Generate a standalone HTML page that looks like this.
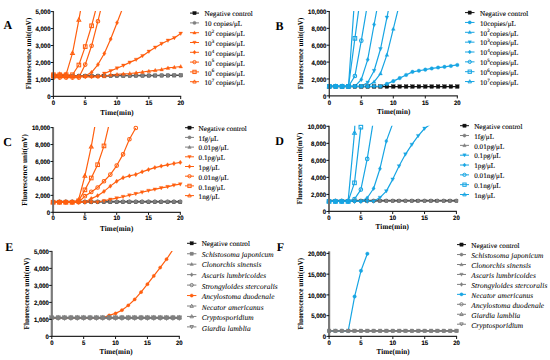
<!DOCTYPE html>
<html><head><meta charset="utf-8"><style>
html,body{margin:0;padding:0;background:#fff;width:550px;height:360px;overflow:hidden}
svg{display:block} text{text-rendering:geometricPrecision}
.tk{font-family:"Liberation Sans",sans-serif;font-weight:bold;font-size:6.3px;fill:#000;stroke:#000;stroke-width:0.12px}
.ttl{font-family:"Liberation Serif",serif;font-weight:bold;font-size:7.6px;letter-spacing:0.18px;fill:#000;stroke:#000;stroke-width:0.05px}
.let{font-family:"Liberation Serif",serif;font-weight:bold;font-size:12px;fill:#000}
.lg{font-family:"Liberation Serif",serif;font-size:7.1px;letter-spacing:0.05px;fill:#000;stroke:#000;stroke-width:0.1px}
.it{font-style:italic;font-size:7.4px;letter-spacing:0.1px;stroke-width:0.05px}
.sup{font-size:5px}
</style></head><body>
<svg width="550" height="360" viewBox="0 0 550 360">
<rect width="550" height="360" fill="#fff"/>
<clipPath id="cA"><rect x="47.4" y="11.1" width="141.3" height="90.85000000000001"/></clipPath>
<path clip-path="url(#cA)" d="M53.40 76.09 L59.77 76.05 L66.13 76.02 L72.50 75.98 L78.86 75.95 L85.22 75.92 L91.59 75.88 L97.95 75.85 L104.32 75.81 L110.69 75.78 L117.05 75.75 L123.41 75.71 L129.78 75.68 L136.15 75.64 L142.51 75.61 L148.88 75.58 L155.24 75.54 L161.60 75.51 L167.97 75.48 L174.34 75.44 L180.70 75.41" fill="none" stroke="#111111" stroke-width="1.2" stroke-linejoin="round"/>
<path clip-path="url(#cA)" d="M53.40 75.75 L59.77 75.72 L66.13 75.70 L72.50 75.67 L78.86 75.64 L85.22 75.62 L91.59 75.59 L97.95 75.57 L104.32 75.54 L110.69 75.52 L117.05 75.49 L123.41 75.47 L129.78 75.44 L136.15 75.42 L142.51 75.39 L148.88 75.36 L155.24 75.34 L161.60 75.31 L167.97 75.29 L174.34 75.26 L180.70 75.24" fill="none" stroke="#555" stroke-width="1.2" stroke-linejoin="round"/>
<path clip-path="url(#cA)" d="M53.40 76.43 L59.77 76.43 L66.13 76.43 L72.50 76.43 L78.86 76.43 L85.22 76.43 L91.59 76.43 L97.95 76.43 L104.32 76.43 L110.69 74.90 L117.05 74.39 L123.41 73.88 L129.78 73.51 L136.15 72.79 L142.51 72.00 L148.88 71.16 L155.24 70.32 L161.60 69.47 L167.97 67.94 L174.34 67.26 L180.70 66.50" fill="none" stroke="#ff5f0f" stroke-width="1.2" stroke-linejoin="round"/>
<path clip-path="url(#cA)" d="M53.40 76.93 L59.77 76.93 L66.13 76.93 L72.50 76.93 L78.86 76.93 L85.22 76.93 L91.59 76.93 L97.95 76.93 L104.32 73.51 L110.69 70.91 L117.05 68.19 L123.41 65.50 L129.78 62.41 L136.15 59.61 L142.51 55.89 L148.88 51.50 L155.24 47.41 L161.60 43.67 L167.97 40.45 L174.34 37.90 L180.70 33.51" fill="none" stroke="#ff5f0f" stroke-width="1.2" stroke-linejoin="round"/>
<path clip-path="url(#cA)" d="M53.40 76.09 L59.77 76.09 L66.13 76.09 L72.50 76.09 L78.86 76.09 L85.22 76.09 L91.59 72.35 L97.95 64.55 L104.32 53.50 L110.69 39.09 L117.05 22.70 L123.41 6.17" fill="none" stroke="#ff5f0f" stroke-width="1.2" stroke-linejoin="round"/>
<path clip-path="url(#cA)" d="M53.40 77.61 L59.77 77.61 L66.13 77.61 L72.50 77.61 L78.86 77.61 L85.22 64.60 L91.59 45.79 L97.95 21.21 L104.32 -5.37" fill="none" stroke="#ff5f0f" stroke-width="1.2" stroke-linejoin="round"/>
<path clip-path="url(#cA)" d="M53.40 74.73 L59.77 74.73 L66.13 74.73 L72.50 74.73 L78.86 65.00 L85.22 46.61 L91.59 25.80 L97.95 1.42" fill="none" stroke="#ff5f0f" stroke-width="1.2" stroke-linejoin="round"/>
<path clip-path="url(#cA)" d="M53.40 74.39 L59.77 74.39 L66.13 74.39 L72.50 53.11 L78.86 19.80 L85.22 -15.55" fill="none" stroke="#ff5f0f" stroke-width="1.2" stroke-linejoin="round"/>
<rect x="51.80" y="74.49" width="3.20" height="3.20" fill="#111111" stroke="#111111" stroke-width="0.35"/>
<rect x="58.16" y="74.45" width="3.20" height="3.20" fill="#111111" stroke="#111111" stroke-width="0.35"/>
<rect x="64.53" y="74.42" width="3.20" height="3.20" fill="#111111" stroke="#111111" stroke-width="0.35"/>
<rect x="70.90" y="74.38" width="3.20" height="3.20" fill="#111111" stroke="#111111" stroke-width="0.35"/>
<rect x="77.26" y="74.35" width="3.20" height="3.20" fill="#111111" stroke="#111111" stroke-width="0.35"/>
<rect x="83.62" y="74.32" width="3.20" height="3.20" fill="#111111" stroke="#111111" stroke-width="0.35"/>
<rect x="89.99" y="74.28" width="3.20" height="3.20" fill="#111111" stroke="#111111" stroke-width="0.35"/>
<rect x="96.36" y="74.25" width="3.20" height="3.20" fill="#111111" stroke="#111111" stroke-width="0.35"/>
<rect x="102.72" y="74.21" width="3.20" height="3.20" fill="#111111" stroke="#111111" stroke-width="0.35"/>
<rect x="109.09" y="74.18" width="3.20" height="3.20" fill="#111111" stroke="#111111" stroke-width="0.35"/>
<rect x="115.45" y="74.15" width="3.20" height="3.20" fill="#111111" stroke="#111111" stroke-width="0.35"/>
<rect x="121.81" y="74.11" width="3.20" height="3.20" fill="#111111" stroke="#111111" stroke-width="0.35"/>
<rect x="128.18" y="74.08" width="3.20" height="3.20" fill="#111111" stroke="#111111" stroke-width="0.35"/>
<rect x="134.55" y="74.04" width="3.20" height="3.20" fill="#111111" stroke="#111111" stroke-width="0.35"/>
<rect x="140.91" y="74.01" width="3.20" height="3.20" fill="#111111" stroke="#111111" stroke-width="0.35"/>
<rect x="147.28" y="73.98" width="3.20" height="3.20" fill="#111111" stroke="#111111" stroke-width="0.35"/>
<rect x="153.64" y="73.94" width="3.20" height="3.20" fill="#111111" stroke="#111111" stroke-width="0.35"/>
<rect x="160.00" y="73.91" width="3.20" height="3.20" fill="#111111" stroke="#111111" stroke-width="0.35"/>
<rect x="166.37" y="73.88" width="3.20" height="3.20" fill="#111111" stroke="#111111" stroke-width="0.35"/>
<rect x="172.74" y="73.84" width="3.20" height="3.20" fill="#111111" stroke="#111111" stroke-width="0.35"/>
<rect x="179.10" y="73.81" width="3.20" height="3.20" fill="#111111" stroke="#111111" stroke-width="0.35"/>
<circle cx="53.40" cy="75.75" r="1.85" fill="#808080" stroke="#808080" stroke-width="0.35"/>
<circle cx="59.77" cy="75.72" r="1.85" fill="#808080" stroke="#808080" stroke-width="0.35"/>
<circle cx="66.13" cy="75.70" r="1.85" fill="#808080" stroke="#808080" stroke-width="0.35"/>
<circle cx="72.50" cy="75.67" r="1.85" fill="#808080" stroke="#808080" stroke-width="0.35"/>
<circle cx="78.86" cy="75.64" r="1.85" fill="#808080" stroke="#808080" stroke-width="0.35"/>
<circle cx="85.22" cy="75.62" r="1.85" fill="#808080" stroke="#808080" stroke-width="0.35"/>
<circle cx="91.59" cy="75.59" r="1.85" fill="#808080" stroke="#808080" stroke-width="0.35"/>
<circle cx="97.95" cy="75.57" r="1.85" fill="#808080" stroke="#808080" stroke-width="0.35"/>
<circle cx="104.32" cy="75.54" r="1.85" fill="#808080" stroke="#808080" stroke-width="0.35"/>
<circle cx="110.69" cy="75.52" r="1.85" fill="#808080" stroke="#808080" stroke-width="0.35"/>
<circle cx="117.05" cy="75.49" r="1.85" fill="#808080" stroke="#808080" stroke-width="0.35"/>
<circle cx="123.41" cy="75.47" r="1.85" fill="#808080" stroke="#808080" stroke-width="0.35"/>
<circle cx="129.78" cy="75.44" r="1.85" fill="#808080" stroke="#808080" stroke-width="0.35"/>
<circle cx="136.15" cy="75.42" r="1.85" fill="#808080" stroke="#808080" stroke-width="0.35"/>
<circle cx="142.51" cy="75.39" r="1.85" fill="#808080" stroke="#808080" stroke-width="0.35"/>
<circle cx="148.88" cy="75.36" r="1.85" fill="#808080" stroke="#808080" stroke-width="0.35"/>
<circle cx="155.24" cy="75.34" r="1.85" fill="#808080" stroke="#808080" stroke-width="0.35"/>
<circle cx="161.60" cy="75.31" r="1.85" fill="#808080" stroke="#808080" stroke-width="0.35"/>
<circle cx="167.97" cy="75.29" r="1.85" fill="#808080" stroke="#808080" stroke-width="0.35"/>
<circle cx="174.34" cy="75.26" r="1.85" fill="#808080" stroke="#808080" stroke-width="0.35"/>
<circle cx="180.70" cy="75.24" r="1.85" fill="#808080" stroke="#808080" stroke-width="0.35"/>
<path d="M53.40 74.45L55.29 77.87L51.51 77.87Z" fill="#ff5f0f" stroke="#ff5f0f" stroke-width="0.35"/>
<path d="M59.77 74.45L61.66 77.87L57.88 77.87Z" fill="#ff5f0f" stroke="#ff5f0f" stroke-width="0.35"/>
<path d="M66.13 74.45L68.02 77.87L64.24 77.87Z" fill="#ff5f0f" stroke="#ff5f0f" stroke-width="0.35"/>
<path d="M72.50 74.45L74.39 77.87L70.61 77.87Z" fill="#ff5f0f" stroke="#ff5f0f" stroke-width="0.35"/>
<path d="M78.86 74.45L80.75 77.87L76.97 77.87Z" fill="#ff5f0f" stroke="#ff5f0f" stroke-width="0.35"/>
<path d="M85.22 74.45L87.11 77.87L83.33 77.87Z" fill="#ff5f0f" stroke="#ff5f0f" stroke-width="0.35"/>
<path d="M91.59 74.45L93.48 77.87L89.70 77.87Z" fill="#ff5f0f" stroke="#ff5f0f" stroke-width="0.35"/>
<path d="M97.95 74.45L99.84 77.87L96.06 77.87Z" fill="#ff5f0f" stroke="#ff5f0f" stroke-width="0.35"/>
<path d="M104.32 74.45L106.21 77.87L102.43 77.87Z" fill="#ff5f0f" stroke="#ff5f0f" stroke-width="0.35"/>
<path d="M110.69 72.92L112.58 76.34L108.80 76.34Z" fill="#ff5f0f" stroke="#ff5f0f" stroke-width="0.35"/>
<path d="M117.05 72.41L118.94 75.83L115.16 75.83Z" fill="#ff5f0f" stroke="#ff5f0f" stroke-width="0.35"/>
<path d="M123.41 71.90L125.30 75.32L121.52 75.32Z" fill="#ff5f0f" stroke="#ff5f0f" stroke-width="0.35"/>
<path d="M129.78 71.53L131.67 74.95L127.89 74.95Z" fill="#ff5f0f" stroke="#ff5f0f" stroke-width="0.35"/>
<path d="M136.15 70.81L138.03 74.23L134.26 74.23Z" fill="#ff5f0f" stroke="#ff5f0f" stroke-width="0.35"/>
<path d="M142.51 70.02L144.40 73.44L140.62 73.44Z" fill="#ff5f0f" stroke="#ff5f0f" stroke-width="0.35"/>
<path d="M148.88 69.18L150.76 72.60L146.99 72.60Z" fill="#ff5f0f" stroke="#ff5f0f" stroke-width="0.35"/>
<path d="M155.24 68.34L157.13 71.76L153.35 71.76Z" fill="#ff5f0f" stroke="#ff5f0f" stroke-width="0.35"/>
<path d="M161.60 67.49L163.49 70.91L159.72 70.91Z" fill="#ff5f0f" stroke="#ff5f0f" stroke-width="0.35"/>
<path d="M167.97 65.96L169.86 69.38L166.08 69.38Z" fill="#ff5f0f" stroke="#ff5f0f" stroke-width="0.35"/>
<path d="M174.34 65.28L176.22 68.70L172.45 68.70Z" fill="#ff5f0f" stroke="#ff5f0f" stroke-width="0.35"/>
<path d="M180.70 64.52L182.59 67.94L178.81 67.94Z" fill="#ff5f0f" stroke="#ff5f0f" stroke-width="0.35"/>
<path d="M53.40 78.91L55.29 75.49L51.51 75.49Z" fill="#ff5f0f" stroke="#ff5f0f" stroke-width="0.35"/>
<path d="M59.77 78.91L61.66 75.49L57.88 75.49Z" fill="#ff5f0f" stroke="#ff5f0f" stroke-width="0.35"/>
<path d="M66.13 78.91L68.02 75.49L64.24 75.49Z" fill="#ff5f0f" stroke="#ff5f0f" stroke-width="0.35"/>
<path d="M72.50 78.91L74.39 75.49L70.61 75.49Z" fill="#ff5f0f" stroke="#ff5f0f" stroke-width="0.35"/>
<path d="M78.86 78.91L80.75 75.49L76.97 75.49Z" fill="#ff5f0f" stroke="#ff5f0f" stroke-width="0.35"/>
<path d="M85.22 78.91L87.11 75.49L83.33 75.49Z" fill="#ff5f0f" stroke="#ff5f0f" stroke-width="0.35"/>
<path d="M91.59 78.91L93.48 75.49L89.70 75.49Z" fill="#ff5f0f" stroke="#ff5f0f" stroke-width="0.35"/>
<path d="M97.95 78.91L99.84 75.49L96.06 75.49Z" fill="#ff5f0f" stroke="#ff5f0f" stroke-width="0.35"/>
<path d="M104.32 75.49L106.21 72.07L102.43 72.07Z" fill="#ff5f0f" stroke="#ff5f0f" stroke-width="0.35"/>
<path d="M110.69 72.89L112.58 69.47L108.80 69.47Z" fill="#ff5f0f" stroke="#ff5f0f" stroke-width="0.35"/>
<path d="M117.05 70.17L118.94 66.75L115.16 66.75Z" fill="#ff5f0f" stroke="#ff5f0f" stroke-width="0.35"/>
<path d="M123.41 67.48L125.30 64.06L121.52 64.06Z" fill="#ff5f0f" stroke="#ff5f0f" stroke-width="0.35"/>
<path d="M129.78 64.39L131.67 60.97L127.89 60.97Z" fill="#ff5f0f" stroke="#ff5f0f" stroke-width="0.35"/>
<path d="M136.15 61.59L138.03 58.17L134.26 58.17Z" fill="#ff5f0f" stroke="#ff5f0f" stroke-width="0.35"/>
<path d="M142.51 57.87L144.40 54.45L140.62 54.45Z" fill="#ff5f0f" stroke="#ff5f0f" stroke-width="0.35"/>
<path d="M148.88 53.48L150.76 50.06L146.99 50.06Z" fill="#ff5f0f" stroke="#ff5f0f" stroke-width="0.35"/>
<path d="M155.24 49.39L157.13 45.97L153.35 45.97Z" fill="#ff5f0f" stroke="#ff5f0f" stroke-width="0.35"/>
<path d="M161.60 45.65L163.49 42.23L159.72 42.23Z" fill="#ff5f0f" stroke="#ff5f0f" stroke-width="0.35"/>
<path d="M167.97 42.43L169.86 39.01L166.08 39.01Z" fill="#ff5f0f" stroke="#ff5f0f" stroke-width="0.35"/>
<path d="M174.34 39.88L176.22 36.46L172.45 36.46Z" fill="#ff5f0f" stroke="#ff5f0f" stroke-width="0.35"/>
<path d="M180.70 35.49L182.59 32.07L178.81 32.07Z" fill="#ff5f0f" stroke="#ff5f0f" stroke-width="0.35"/>
<path d="M53.40 73.93L55.02 76.09L53.40 78.25L51.78 76.09Z" fill="#ff5f0f" stroke="#ff5f0f" stroke-width="0.35"/>
<path d="M59.77 73.93L61.38 76.09L59.77 78.25L58.15 76.09Z" fill="#ff5f0f" stroke="#ff5f0f" stroke-width="0.35"/>
<path d="M66.13 73.93L67.75 76.09L66.13 78.25L64.51 76.09Z" fill="#ff5f0f" stroke="#ff5f0f" stroke-width="0.35"/>
<path d="M72.50 73.93L74.12 76.09L72.50 78.25L70.88 76.09Z" fill="#ff5f0f" stroke="#ff5f0f" stroke-width="0.35"/>
<path d="M78.86 73.93L80.48 76.09L78.86 78.25L77.24 76.09Z" fill="#ff5f0f" stroke="#ff5f0f" stroke-width="0.35"/>
<path d="M85.22 73.93L86.84 76.09L85.22 78.25L83.60 76.09Z" fill="#ff5f0f" stroke="#ff5f0f" stroke-width="0.35"/>
<path d="M91.59 70.19L93.21 72.35L91.59 74.51L89.97 72.35Z" fill="#ff5f0f" stroke="#ff5f0f" stroke-width="0.35"/>
<path d="M97.95 62.39L99.58 64.55L97.95 66.71L96.33 64.55Z" fill="#ff5f0f" stroke="#ff5f0f" stroke-width="0.35"/>
<path d="M104.32 51.34L105.94 53.50L104.32 55.66L102.70 53.50Z" fill="#ff5f0f" stroke="#ff5f0f" stroke-width="0.35"/>
<path d="M110.69 36.93L112.31 39.09L110.69 41.25L109.06 39.09Z" fill="#ff5f0f" stroke="#ff5f0f" stroke-width="0.35"/>
<path d="M117.05 20.54L118.67 22.70L117.05 24.86L115.43 22.70Z" fill="#ff5f0f" stroke="#ff5f0f" stroke-width="0.35"/>
<circle cx="53.40" cy="77.61" r="1.80" fill="none" stroke="#ff5f0f" stroke-width="1.05"/>
<circle cx="59.77" cy="77.61" r="1.80" fill="none" stroke="#ff5f0f" stroke-width="1.05"/>
<circle cx="66.13" cy="77.61" r="1.80" fill="none" stroke="#ff5f0f" stroke-width="1.05"/>
<circle cx="72.50" cy="77.61" r="1.80" fill="none" stroke="#ff5f0f" stroke-width="1.05"/>
<circle cx="78.86" cy="77.61" r="1.80" fill="none" stroke="#ff5f0f" stroke-width="1.05"/>
<circle cx="85.22" cy="64.60" r="1.80" fill="none" stroke="#ff5f0f" stroke-width="1.05"/>
<circle cx="91.59" cy="45.79" r="1.80" fill="none" stroke="#ff5f0f" stroke-width="1.05"/>
<circle cx="97.95" cy="21.21" r="1.80" fill="none" stroke="#ff5f0f" stroke-width="1.05"/>
<rect x="51.60" y="72.93" width="3.60" height="3.60" fill="none" stroke="#ff5f0f" stroke-width="1.05"/>
<rect x="57.97" y="72.93" width="3.60" height="3.60" fill="none" stroke="#ff5f0f" stroke-width="1.05"/>
<rect x="64.33" y="72.93" width="3.60" height="3.60" fill="none" stroke="#ff5f0f" stroke-width="1.05"/>
<rect x="70.70" y="72.93" width="3.60" height="3.60" fill="none" stroke="#ff5f0f" stroke-width="1.05"/>
<rect x="77.06" y="63.20" width="3.60" height="3.60" fill="none" stroke="#ff5f0f" stroke-width="1.05"/>
<rect x="83.42" y="44.81" width="3.60" height="3.60" fill="none" stroke="#ff5f0f" stroke-width="1.05"/>
<rect x="89.79" y="24.00" width="3.60" height="3.60" fill="none" stroke="#ff5f0f" stroke-width="1.05"/>
<path d="M53.40 72.41L55.29 75.83L51.51 75.83Z" fill="none" stroke="#ff5f0f" stroke-width="1.05"/>
<path d="M59.77 72.41L61.66 75.83L57.88 75.83Z" fill="none" stroke="#ff5f0f" stroke-width="1.05"/>
<path d="M66.13 72.41L68.02 75.83L64.24 75.83Z" fill="none" stroke="#ff5f0f" stroke-width="1.05"/>
<path d="M72.50 51.13L74.39 54.55L70.61 54.55Z" fill="none" stroke="#ff5f0f" stroke-width="1.05"/>
<path d="M78.86 17.82L80.75 21.24L76.97 21.24Z" fill="none" stroke="#ff5f0f" stroke-width="1.05"/>
<line x1="53.40" y1="11.10" x2="53.40" y2="96.95" stroke="#3a3a3a" stroke-width="1.3"/>
<line x1="52.90" y1="96.45" x2="181.20" y2="96.45" stroke="#2a2a2a" stroke-width="1.2"/>
<line x1="50.80" y1="96.45" x2="53.40" y2="96.45" stroke="#141414" stroke-width="1"/>
<text transform="translate(50.50 99.25) scale(0.95 1)" text-anchor="end" class="tk">0</text>
<line x1="50.80" y1="79.48" x2="53.40" y2="79.48" stroke="#141414" stroke-width="1"/>
<text transform="translate(50.50 82.28) scale(0.95 1)" text-anchor="end" class="tk">1,000</text>
<line x1="50.80" y1="62.51" x2="53.40" y2="62.51" stroke="#141414" stroke-width="1"/>
<text transform="translate(50.50 65.31) scale(0.95 1)" text-anchor="end" class="tk">2,000</text>
<line x1="50.80" y1="45.54" x2="53.40" y2="45.54" stroke="#141414" stroke-width="1"/>
<text transform="translate(50.50 48.34) scale(0.95 1)" text-anchor="end" class="tk">3,000</text>
<line x1="50.80" y1="28.57" x2="53.40" y2="28.57" stroke="#141414" stroke-width="1"/>
<text transform="translate(50.50 31.37) scale(0.95 1)" text-anchor="end" class="tk">4,000</text>
<line x1="50.80" y1="11.60" x2="53.40" y2="11.60" stroke="#141414" stroke-width="1"/>
<text transform="translate(50.50 14.40) scale(0.95 1)" text-anchor="end" class="tk">5,000</text>
<line x1="53.40" y1="96.45" x2="53.40" y2="99.05" stroke="#141414" stroke-width="1"/>
<text transform="translate(53.40 104.75) scale(0.95 1)" text-anchor="middle" class="tk">0</text>
<line x1="85.22" y1="96.45" x2="85.22" y2="99.05" stroke="#141414" stroke-width="1"/>
<text transform="translate(85.22 104.75) scale(0.95 1)" text-anchor="middle" class="tk">5</text>
<line x1="117.05" y1="96.45" x2="117.05" y2="99.05" stroke="#141414" stroke-width="1"/>
<text transform="translate(117.05 104.75) scale(0.95 1)" text-anchor="middle" class="tk">10</text>
<line x1="148.88" y1="96.45" x2="148.88" y2="99.05" stroke="#141414" stroke-width="1"/>
<text transform="translate(148.88 104.75) scale(0.95 1)" text-anchor="middle" class="tk">15</text>
<line x1="180.70" y1="96.45" x2="180.70" y2="99.05" stroke="#141414" stroke-width="1"/>
<text transform="translate(180.70 104.75) scale(0.95 1)" text-anchor="middle" class="tk">20</text>
<text transform="translate(117.05 114.90) scale(0.925 1)" text-anchor="middle" class="ttl">Time(min)</text>
<text transform="translate(30.80 53.40) rotate(-90) scale(0.925 1)" text-anchor="middle" class="ttl">Fluorescence unit(mV)</text>
<text transform="translate(3.50 28.90)" class="let">A</text>
<line x1="190.00" y1="13.10" x2="199.00" y2="13.10" stroke="#111111" stroke-width="1"/>
<rect x="192.85" y="11.45" width="3.30" height="3.30" fill="#111111" stroke="#111111" stroke-width="0.35"/>
<text transform="translate(204.50 16.10)" class="lg">Negative control</text>
<line x1="190.00" y1="22.90" x2="199.00" y2="22.90" stroke="#808080" stroke-width="1"/>
<circle cx="194.50" cy="22.90" r="1.65" fill="#808080" stroke="#808080" stroke-width="0.35"/>
<text transform="translate(204.50 26.00)" class="lg">10 copies/μL</text>
<line x1="190.00" y1="32.70" x2="199.00" y2="32.70" stroke="#ff5f0f" stroke-width="1"/>
<path d="M194.50 30.89L196.23 34.02L192.77 34.02Z" fill="#ff5f0f" stroke="#ff5f0f" stroke-width="0.35"/>
<text transform="translate(204.50 35.90)" class="lg">10<tspan class="sup" dy="-3.2">2</tspan><tspan dy="3.2"> copies/μL</tspan></text>
<line x1="190.00" y1="42.50" x2="199.00" y2="42.50" stroke="#ff5f0f" stroke-width="1"/>
<path d="M194.50 44.31L196.23 41.18L192.77 41.18Z" fill="#ff5f0f" stroke="#ff5f0f" stroke-width="0.35"/>
<text transform="translate(204.50 45.80)" class="lg">10<tspan class="sup" dy="-3.2">3</tspan><tspan dy="3.2"> copies/μL</tspan></text>
<line x1="190.00" y1="52.30" x2="199.00" y2="52.30" stroke="#ff5f0f" stroke-width="1"/>
<path d="M194.50 50.32L195.99 52.30L194.50 54.28L193.01 52.30Z" fill="#ff5f0f" stroke="#ff5f0f" stroke-width="0.35"/>
<text transform="translate(204.50 55.70)" class="lg">10<tspan class="sup" dy="-3.2">4</tspan><tspan dy="3.2"> copies/μL</tspan></text>
<line x1="190.00" y1="62.10" x2="199.00" y2="62.10" stroke="#ff5f0f" stroke-width="1"/>
<circle cx="194.50" cy="62.10" r="1.65" fill="none" stroke="#ff5f0f" stroke-width="1.0"/>
<text transform="translate(204.50 65.60)" class="lg">10<tspan class="sup" dy="-3.2">5</tspan><tspan dy="3.2"> copies/μL</tspan></text>
<line x1="190.00" y1="71.90" x2="199.00" y2="71.90" stroke="#ff5f0f" stroke-width="1"/>
<rect x="192.85" y="70.25" width="3.30" height="3.30" fill="none" stroke="#ff5f0f" stroke-width="1.0"/>
<text transform="translate(204.50 75.50)" class="lg">10<tspan class="sup" dy="-3.2">6</tspan><tspan dy="3.2"> copies/μL</tspan></text>
<line x1="190.00" y1="81.70" x2="199.00" y2="81.70" stroke="#ff5f0f" stroke-width="1"/>
<path d="M194.50 79.89L196.23 83.02L192.77 83.02Z" fill="none" stroke="#ff5f0f" stroke-width="1.0"/>
<text transform="translate(204.50 85.40)" class="lg">10<tspan class="sup" dy="-3.2">7</tspan><tspan dy="3.2"> copies/μL</tspan></text>
<clipPath id="cB"><rect x="323.3" y="10.95" width="142.0" height="90.39999999999999"/></clipPath>
<path clip-path="url(#cB)" d="M329.30 86.57 L335.70 86.57 L342.10 86.57 L348.50 86.57 L354.90 86.57 L361.30 86.57 L367.70 86.57 L374.10 86.57 L380.50 86.57 L386.90 86.57 L393.30 86.57 L399.70 86.57 L406.10 86.57 L412.50 86.57 L418.90 86.57 L425.30 86.57 L431.70 86.57 L438.10 86.57 L444.50 86.57 L450.90 86.57 L457.30 86.57" fill="none" stroke="#111111" stroke-width="1.2" stroke-linejoin="round"/>
<path clip-path="url(#cB)" d="M329.30 86.31 L335.70 86.31 L342.10 86.31 L348.50 86.31 L354.90 86.31 L361.30 86.31 L367.70 86.31 L374.10 86.31 L380.50 86.31 L386.90 83.89 L393.30 81.16 L399.70 78.12 L406.10 74.93 L412.50 71.84 L418.90 70.74 L425.30 69.64 L431.70 68.45 L438.10 67.55 L444.50 66.85 L450.90 65.96 L457.30 64.96" fill="none" stroke="#17a5e3" stroke-width="1.2" stroke-linejoin="round"/>
<path clip-path="url(#cB)" d="M329.30 86.31 L335.70 86.31 L342.10 86.31 L348.50 86.31 L354.90 86.31 L361.30 86.31 L367.70 86.31 L374.10 81.80 L380.50 73.53 L386.90 54.90 L393.30 28.89 L399.70 3.01" fill="none" stroke="#17a5e3" stroke-width="1.2" stroke-linejoin="round"/>
<path clip-path="url(#cB)" d="M329.30 86.31 L335.70 86.31 L342.10 86.31 L348.50 86.31 L354.90 86.31 L361.30 86.31 L367.70 82.50 L374.10 70.74 L380.50 49.02 L386.90 17.53 L393.30 -13.87" fill="none" stroke="#17a5e3" stroke-width="1.2" stroke-linejoin="round"/>
<path clip-path="url(#cB)" d="M329.30 86.31 L335.70 86.31 L342.10 86.31 L348.50 86.31 L354.90 86.31 L361.30 79.51 L367.70 59.68 L374.10 24.51 L380.50 -9.65" fill="none" stroke="#17a5e3" stroke-width="1.2" stroke-linejoin="round"/>
<path clip-path="url(#cB)" d="M329.30 86.31 L335.70 86.31 L342.10 86.31 L348.50 86.31 L354.90 76.02 L361.30 40.64 L367.70 3.01" fill="none" stroke="#17a5e3" stroke-width="1.2" stroke-linejoin="round"/>
<path clip-path="url(#cB)" d="M329.30 86.31 L335.70 86.31 L342.10 86.31 L348.50 86.31 L354.90 38.36 L361.30 -9.65" fill="none" stroke="#17a5e3" stroke-width="1.2" stroke-linejoin="round"/>
<path clip-path="url(#cB)" d="M329.30 86.31 L335.70 86.31 L342.10 86.31 L348.50 86.31 L354.90 -5.43" fill="none" stroke="#17a5e3" stroke-width="1.2" stroke-linejoin="round"/>
<rect x="327.50" y="84.77" width="3.60" height="3.60" fill="#111111" stroke="#111111" stroke-width="0.35"/>
<rect x="333.90" y="84.77" width="3.60" height="3.60" fill="#111111" stroke="#111111" stroke-width="0.35"/>
<rect x="340.30" y="84.77" width="3.60" height="3.60" fill="#111111" stroke="#111111" stroke-width="0.35"/>
<rect x="346.70" y="84.77" width="3.60" height="3.60" fill="#111111" stroke="#111111" stroke-width="0.35"/>
<rect x="353.10" y="84.77" width="3.60" height="3.60" fill="#111111" stroke="#111111" stroke-width="0.35"/>
<rect x="359.50" y="84.77" width="3.60" height="3.60" fill="#111111" stroke="#111111" stroke-width="0.35"/>
<rect x="365.90" y="84.77" width="3.60" height="3.60" fill="#111111" stroke="#111111" stroke-width="0.35"/>
<rect x="372.30" y="84.77" width="3.60" height="3.60" fill="#111111" stroke="#111111" stroke-width="0.35"/>
<rect x="378.70" y="84.77" width="3.60" height="3.60" fill="#111111" stroke="#111111" stroke-width="0.35"/>
<rect x="385.10" y="84.77" width="3.60" height="3.60" fill="#111111" stroke="#111111" stroke-width="0.35"/>
<rect x="391.50" y="84.77" width="3.60" height="3.60" fill="#111111" stroke="#111111" stroke-width="0.35"/>
<rect x="397.90" y="84.77" width="3.60" height="3.60" fill="#111111" stroke="#111111" stroke-width="0.35"/>
<rect x="404.30" y="84.77" width="3.60" height="3.60" fill="#111111" stroke="#111111" stroke-width="0.35"/>
<rect x="410.70" y="84.77" width="3.60" height="3.60" fill="#111111" stroke="#111111" stroke-width="0.35"/>
<rect x="417.10" y="84.77" width="3.60" height="3.60" fill="#111111" stroke="#111111" stroke-width="0.35"/>
<rect x="423.50" y="84.77" width="3.60" height="3.60" fill="#111111" stroke="#111111" stroke-width="0.35"/>
<rect x="429.90" y="84.77" width="3.60" height="3.60" fill="#111111" stroke="#111111" stroke-width="0.35"/>
<rect x="436.30" y="84.77" width="3.60" height="3.60" fill="#111111" stroke="#111111" stroke-width="0.35"/>
<rect x="442.70" y="84.77" width="3.60" height="3.60" fill="#111111" stroke="#111111" stroke-width="0.35"/>
<rect x="449.10" y="84.77" width="3.60" height="3.60" fill="#111111" stroke="#111111" stroke-width="0.35"/>
<rect x="455.50" y="84.77" width="3.60" height="3.60" fill="#111111" stroke="#111111" stroke-width="0.35"/>
<circle cx="329.30" cy="86.31" r="1.80" fill="#17a5e3" stroke="#17a5e3" stroke-width="0.35"/>
<circle cx="335.70" cy="86.31" r="1.80" fill="#17a5e3" stroke="#17a5e3" stroke-width="0.35"/>
<circle cx="342.10" cy="86.31" r="1.80" fill="#17a5e3" stroke="#17a5e3" stroke-width="0.35"/>
<circle cx="348.50" cy="86.31" r="1.80" fill="#17a5e3" stroke="#17a5e3" stroke-width="0.35"/>
<circle cx="354.90" cy="86.31" r="1.80" fill="#17a5e3" stroke="#17a5e3" stroke-width="0.35"/>
<circle cx="361.30" cy="86.31" r="1.80" fill="#17a5e3" stroke="#17a5e3" stroke-width="0.35"/>
<circle cx="367.70" cy="86.31" r="1.80" fill="#17a5e3" stroke="#17a5e3" stroke-width="0.35"/>
<circle cx="374.10" cy="86.31" r="1.80" fill="#17a5e3" stroke="#17a5e3" stroke-width="0.35"/>
<circle cx="380.50" cy="86.31" r="1.80" fill="#17a5e3" stroke="#17a5e3" stroke-width="0.35"/>
<circle cx="386.90" cy="83.89" r="1.80" fill="#17a5e3" stroke="#17a5e3" stroke-width="0.35"/>
<circle cx="393.30" cy="81.16" r="1.80" fill="#17a5e3" stroke="#17a5e3" stroke-width="0.35"/>
<circle cx="399.70" cy="78.12" r="1.80" fill="#17a5e3" stroke="#17a5e3" stroke-width="0.35"/>
<circle cx="406.10" cy="74.93" r="1.80" fill="#17a5e3" stroke="#17a5e3" stroke-width="0.35"/>
<circle cx="412.50" cy="71.84" r="1.80" fill="#17a5e3" stroke="#17a5e3" stroke-width="0.35"/>
<circle cx="418.90" cy="70.74" r="1.80" fill="#17a5e3" stroke="#17a5e3" stroke-width="0.35"/>
<circle cx="425.30" cy="69.64" r="1.80" fill="#17a5e3" stroke="#17a5e3" stroke-width="0.35"/>
<circle cx="431.70" cy="68.45" r="1.80" fill="#17a5e3" stroke="#17a5e3" stroke-width="0.35"/>
<circle cx="438.10" cy="67.55" r="1.80" fill="#17a5e3" stroke="#17a5e3" stroke-width="0.35"/>
<circle cx="444.50" cy="66.85" r="1.80" fill="#17a5e3" stroke="#17a5e3" stroke-width="0.35"/>
<circle cx="450.90" cy="65.96" r="1.80" fill="#17a5e3" stroke="#17a5e3" stroke-width="0.35"/>
<circle cx="457.30" cy="64.96" r="1.80" fill="#17a5e3" stroke="#17a5e3" stroke-width="0.35"/>
<path d="M329.30 84.33L331.19 87.75L327.41 87.75Z" fill="#17a5e3" stroke="#17a5e3" stroke-width="0.35"/>
<path d="M335.70 84.33L337.59 87.75L333.81 87.75Z" fill="#17a5e3" stroke="#17a5e3" stroke-width="0.35"/>
<path d="M342.10 84.33L343.99 87.75L340.21 87.75Z" fill="#17a5e3" stroke="#17a5e3" stroke-width="0.35"/>
<path d="M348.50 84.33L350.39 87.75L346.61 87.75Z" fill="#17a5e3" stroke="#17a5e3" stroke-width="0.35"/>
<path d="M354.90 84.33L356.79 87.75L353.01 87.75Z" fill="#17a5e3" stroke="#17a5e3" stroke-width="0.35"/>
<path d="M361.30 84.33L363.19 87.75L359.41 87.75Z" fill="#17a5e3" stroke="#17a5e3" stroke-width="0.35"/>
<path d="M367.70 84.33L369.59 87.75L365.81 87.75Z" fill="#17a5e3" stroke="#17a5e3" stroke-width="0.35"/>
<path d="M374.10 79.82L375.99 83.24L372.21 83.24Z" fill="#17a5e3" stroke="#17a5e3" stroke-width="0.35"/>
<path d="M380.50 71.55L382.39 74.97L378.61 74.97Z" fill="#17a5e3" stroke="#17a5e3" stroke-width="0.35"/>
<path d="M386.90 52.92L388.79 56.34L385.01 56.34Z" fill="#17a5e3" stroke="#17a5e3" stroke-width="0.35"/>
<path d="M393.30 26.91L395.19 30.33L391.41 30.33Z" fill="#17a5e3" stroke="#17a5e3" stroke-width="0.35"/>
<path d="M329.30 88.29L331.19 84.87L327.41 84.87Z" fill="#17a5e3" stroke="#17a5e3" stroke-width="0.35"/>
<path d="M335.70 88.29L337.59 84.87L333.81 84.87Z" fill="#17a5e3" stroke="#17a5e3" stroke-width="0.35"/>
<path d="M342.10 88.29L343.99 84.87L340.21 84.87Z" fill="#17a5e3" stroke="#17a5e3" stroke-width="0.35"/>
<path d="M348.50 88.29L350.39 84.87L346.61 84.87Z" fill="#17a5e3" stroke="#17a5e3" stroke-width="0.35"/>
<path d="M354.90 88.29L356.79 84.87L353.01 84.87Z" fill="#17a5e3" stroke="#17a5e3" stroke-width="0.35"/>
<path d="M361.30 88.29L363.19 84.87L359.41 84.87Z" fill="#17a5e3" stroke="#17a5e3" stroke-width="0.35"/>
<path d="M367.70 84.48L369.59 81.06L365.81 81.06Z" fill="#17a5e3" stroke="#17a5e3" stroke-width="0.35"/>
<path d="M374.10 72.72L375.99 69.30L372.21 69.30Z" fill="#17a5e3" stroke="#17a5e3" stroke-width="0.35"/>
<path d="M380.50 51.00L382.39 47.58L378.61 47.58Z" fill="#17a5e3" stroke="#17a5e3" stroke-width="0.35"/>
<path d="M386.90 19.51L388.79 16.09L385.01 16.09Z" fill="#17a5e3" stroke="#17a5e3" stroke-width="0.35"/>
<path d="M329.30 84.15L330.92 86.31L329.30 88.47L327.68 86.31Z" fill="#17a5e3" stroke="#17a5e3" stroke-width="0.35"/>
<path d="M335.70 84.15L337.32 86.31L335.70 88.47L334.08 86.31Z" fill="#17a5e3" stroke="#17a5e3" stroke-width="0.35"/>
<path d="M342.10 84.15L343.72 86.31L342.10 88.47L340.48 86.31Z" fill="#17a5e3" stroke="#17a5e3" stroke-width="0.35"/>
<path d="M348.50 84.15L350.12 86.31L348.50 88.47L346.88 86.31Z" fill="#17a5e3" stroke="#17a5e3" stroke-width="0.35"/>
<path d="M354.90 84.15L356.52 86.31L354.90 88.47L353.28 86.31Z" fill="#17a5e3" stroke="#17a5e3" stroke-width="0.35"/>
<path d="M361.30 77.35L362.92 79.51L361.30 81.67L359.68 79.51Z" fill="#17a5e3" stroke="#17a5e3" stroke-width="0.35"/>
<path d="M367.70 57.52L369.32 59.68L367.70 61.84L366.08 59.68Z" fill="#17a5e3" stroke="#17a5e3" stroke-width="0.35"/>
<path d="M374.10 22.35L375.72 24.51L374.10 26.67L372.48 24.51Z" fill="#17a5e3" stroke="#17a5e3" stroke-width="0.35"/>
<circle cx="329.30" cy="86.31" r="1.80" fill="none" stroke="#17a5e3" stroke-width="1.05"/>
<circle cx="335.70" cy="86.31" r="1.80" fill="none" stroke="#17a5e3" stroke-width="1.05"/>
<circle cx="342.10" cy="86.31" r="1.80" fill="none" stroke="#17a5e3" stroke-width="1.05"/>
<circle cx="348.50" cy="86.31" r="1.80" fill="none" stroke="#17a5e3" stroke-width="1.05"/>
<circle cx="354.90" cy="76.02" r="1.80" fill="none" stroke="#17a5e3" stroke-width="1.05"/>
<circle cx="361.30" cy="40.64" r="1.80" fill="none" stroke="#17a5e3" stroke-width="1.05"/>
<rect x="327.50" y="84.51" width="3.60" height="3.60" fill="none" stroke="#17a5e3" stroke-width="1.05"/>
<rect x="333.90" y="84.51" width="3.60" height="3.60" fill="none" stroke="#17a5e3" stroke-width="1.05"/>
<rect x="340.30" y="84.51" width="3.60" height="3.60" fill="none" stroke="#17a5e3" stroke-width="1.05"/>
<rect x="346.70" y="84.51" width="3.60" height="3.60" fill="none" stroke="#17a5e3" stroke-width="1.05"/>
<rect x="353.10" y="36.56" width="3.60" height="3.60" fill="none" stroke="#17a5e3" stroke-width="1.05"/>
<path d="M329.30 84.33L331.19 87.75L327.41 87.75Z" fill="none" stroke="#17a5e3" stroke-width="1.05"/>
<path d="M335.70 84.33L337.59 87.75L333.81 87.75Z" fill="none" stroke="#17a5e3" stroke-width="1.05"/>
<path d="M342.10 84.33L343.99 87.75L340.21 87.75Z" fill="none" stroke="#17a5e3" stroke-width="1.05"/>
<path d="M348.50 84.33L350.39 87.75L346.61 87.75Z" fill="none" stroke="#17a5e3" stroke-width="1.05"/>
<line x1="329.30" y1="10.95" x2="329.30" y2="96.35" stroke="#3a3a3a" stroke-width="1.3"/>
<line x1="328.80" y1="95.85" x2="457.80" y2="95.85" stroke="#2a2a2a" stroke-width="1.2"/>
<line x1="326.70" y1="95.85" x2="329.30" y2="95.85" stroke="#141414" stroke-width="1"/>
<text transform="translate(326.40 98.65) scale(0.95 1)" text-anchor="end" class="tk">0</text>
<line x1="326.70" y1="78.97" x2="329.30" y2="78.97" stroke="#141414" stroke-width="1"/>
<text transform="translate(326.40 81.77) scale(0.95 1)" text-anchor="end" class="tk">2,000</text>
<line x1="326.70" y1="62.09" x2="329.30" y2="62.09" stroke="#141414" stroke-width="1"/>
<text transform="translate(326.40 64.89) scale(0.95 1)" text-anchor="end" class="tk">4,000</text>
<line x1="326.70" y1="45.21" x2="329.30" y2="45.21" stroke="#141414" stroke-width="1"/>
<text transform="translate(326.40 48.01) scale(0.95 1)" text-anchor="end" class="tk">6,000</text>
<line x1="326.70" y1="28.33" x2="329.30" y2="28.33" stroke="#141414" stroke-width="1"/>
<text transform="translate(326.40 31.13) scale(0.95 1)" text-anchor="end" class="tk">8,000</text>
<line x1="326.70" y1="11.45" x2="329.30" y2="11.45" stroke="#141414" stroke-width="1"/>
<text transform="translate(326.40 14.25) scale(0.95 1)" text-anchor="end" class="tk">10,000</text>
<line x1="329.30" y1="95.85" x2="329.30" y2="98.45" stroke="#141414" stroke-width="1"/>
<text transform="translate(329.30 104.55) scale(0.95 1)" text-anchor="middle" class="tk">0</text>
<line x1="361.30" y1="95.85" x2="361.30" y2="98.45" stroke="#141414" stroke-width="1"/>
<text transform="translate(361.30 104.55) scale(0.95 1)" text-anchor="middle" class="tk">5</text>
<line x1="393.30" y1="95.85" x2="393.30" y2="98.45" stroke="#141414" stroke-width="1"/>
<text transform="translate(393.30 104.55) scale(0.95 1)" text-anchor="middle" class="tk">10</text>
<line x1="425.30" y1="95.85" x2="425.30" y2="98.45" stroke="#141414" stroke-width="1"/>
<text transform="translate(425.30 104.55) scale(0.95 1)" text-anchor="middle" class="tk">15</text>
<line x1="457.30" y1="95.85" x2="457.30" y2="98.45" stroke="#141414" stroke-width="1"/>
<text transform="translate(457.30 104.55) scale(0.95 1)" text-anchor="middle" class="tk">20</text>
<text transform="translate(393.80 114.20) scale(0.925 1)" text-anchor="middle" class="ttl">Time(min)</text>
<text transform="translate(302.90 53.40) rotate(-90) scale(0.925 1)" text-anchor="middle" class="ttl">Fluorescence unit(mV)</text>
<text transform="translate(275.60 29.50)" class="let">B</text>
<line x1="465.00" y1="12.60" x2="474.50" y2="12.60" stroke="#111111" stroke-width="1"/>
<rect x="468.10" y="10.95" width="3.30" height="3.30" fill="#111111" stroke="#111111" stroke-width="0.35"/>
<text transform="translate(480.00 15.60)" class="lg">Negative control</text>
<line x1="465.00" y1="22.45" x2="474.50" y2="22.45" stroke="#17a5e3" stroke-width="1"/>
<circle cx="469.75" cy="22.45" r="1.65" fill="#17a5e3" stroke="#17a5e3" stroke-width="0.35"/>
<text transform="translate(480.00 25.55)" class="lg">10copies/μL</text>
<line x1="465.00" y1="32.30" x2="474.50" y2="32.30" stroke="#17a5e3" stroke-width="1"/>
<path d="M469.75 30.48L471.48 33.62L468.02 33.62Z" fill="#17a5e3" stroke="#17a5e3" stroke-width="0.35"/>
<text transform="translate(480.00 35.50)" class="lg">10<tspan class="sup" dy="-3.2">2</tspan><tspan dy="3.2">copies/μL</tspan></text>
<line x1="465.00" y1="42.15" x2="474.50" y2="42.15" stroke="#17a5e3" stroke-width="1"/>
<path d="M469.75 43.96L471.48 40.83L468.02 40.83Z" fill="#17a5e3" stroke="#17a5e3" stroke-width="0.35"/>
<text transform="translate(480.00 45.45)" class="lg">10<tspan class="sup" dy="-3.2">3</tspan><tspan dy="3.2">copies/μL</tspan></text>
<line x1="465.00" y1="52.00" x2="474.50" y2="52.00" stroke="#17a5e3" stroke-width="1"/>
<path d="M469.75 50.02L471.24 52.00L469.75 53.98L468.26 52.00Z" fill="#17a5e3" stroke="#17a5e3" stroke-width="0.35"/>
<text transform="translate(480.00 55.40)" class="lg">10<tspan class="sup" dy="-3.2">4</tspan><tspan dy="3.2">copies/μL</tspan></text>
<line x1="465.00" y1="61.85" x2="474.50" y2="61.85" stroke="#17a5e3" stroke-width="1"/>
<circle cx="469.75" cy="61.85" r="1.65" fill="none" stroke="#17a5e3" stroke-width="1.0"/>
<text transform="translate(480.00 65.35)" class="lg">10<tspan class="sup" dy="-3.2">5</tspan><tspan dy="3.2">copies/μL</tspan></text>
<line x1="465.00" y1="71.70" x2="474.50" y2="71.70" stroke="#17a5e3" stroke-width="1"/>
<rect x="468.10" y="70.05" width="3.30" height="3.30" fill="none" stroke="#17a5e3" stroke-width="1.0"/>
<text transform="translate(480.00 75.30)" class="lg">10<tspan class="sup" dy="-3.2">6</tspan><tspan dy="3.2">copies/μL</tspan></text>
<line x1="465.00" y1="81.55" x2="474.50" y2="81.55" stroke="#17a5e3" stroke-width="1"/>
<path d="M469.75 79.73L471.48 82.87L468.02 82.87Z" fill="none" stroke="#17a5e3" stroke-width="1.0"/>
<text transform="translate(480.00 85.25)" class="lg">10<tspan class="sup" dy="-3.2">7</tspan><tspan dy="3.2">copies/μL</tspan></text>
<clipPath id="cC"><rect x="47.1" y="127.1" width="141.2" height="90.70000000000002"/></clipPath>
<path clip-path="url(#cC)" d="M53.10 201.88 L59.46 201.88 L65.82 201.88 L72.18 201.88 L78.54 201.88 L84.90 201.88 L91.26 201.88 L97.62 201.88 L103.98 201.88 L110.34 201.88 L116.70 201.88 L123.06 201.88 L129.42 201.88 L135.78 201.88 L142.14 201.88 L148.50 201.88 L154.86 201.88 L161.22 201.88 L167.58 201.88 L173.94 201.88 L180.30 201.88" fill="none" stroke="#111111" stroke-width="1.2" stroke-linejoin="round"/>
<path clip-path="url(#cC)" d="M53.10 201.63 L59.46 201.63 L65.82 201.63 L72.18 201.63 L78.54 201.63 L84.90 201.63 L91.26 201.63 L97.62 201.63 L103.98 201.63 L110.34 201.63 L116.70 201.63 L123.06 201.63 L129.42 201.63 L135.78 201.63 L142.14 201.63 L148.50 201.63 L154.86 201.63 L161.22 201.63 L167.58 201.63 L173.94 201.63 L180.30 201.63" fill="none" stroke="#808080" stroke-width="1.2" stroke-linejoin="round"/>
<path clip-path="url(#cC)" d="M53.10 201.37 L59.46 201.37 L65.82 201.37 L72.18 201.37 L78.54 201.37 L84.90 201.37 L91.26 201.37 L97.62 201.37 L103.98 201.37 L110.34 201.37 L116.70 201.37 L123.06 201.37 L129.42 201.37 L135.78 201.37 L142.14 201.37 L148.50 201.37 L154.86 201.37 L161.22 201.37 L167.58 201.37 L173.94 201.37 L180.30 201.37" fill="none" stroke="#555" stroke-width="1.2" stroke-linejoin="round"/>
<path clip-path="url(#cC)" d="M53.10 202.22 L59.46 202.22 L65.82 202.22 L72.18 202.22 L78.54 202.22 L84.90 202.22 L91.26 202.22 L97.62 202.22 L103.98 200.87 L110.34 199.43 L116.70 198.07 L123.06 196.72 L129.42 195.28 L135.78 193.79 L142.14 192.29 L148.50 190.62 L154.86 189.35 L161.22 187.91 L167.58 186.81 L173.94 185.20 L180.30 184.18" fill="none" stroke="#ff5f0f" stroke-width="1.2" stroke-linejoin="round"/>
<path clip-path="url(#cC)" d="M53.10 202.22 L59.46 202.22 L65.82 202.22 L72.18 202.22 L78.54 202.22 L84.90 202.22 L91.26 198.58 L97.62 195.70 L103.98 191.38 L110.34 186.13 L116.70 181.22 L123.06 177.74 L129.42 175.88 L135.78 174.52 L142.14 171.81 L148.50 169.61 L154.86 167.58 L161.22 166.05 L167.58 164.87 L173.94 163.51 L180.30 162.41" fill="none" stroke="#ff5f0f" stroke-width="1.2" stroke-linejoin="round"/>
<path clip-path="url(#cC)" d="M53.10 202.22 L59.46 202.22 L65.82 202.22 L72.18 202.22 L78.54 202.22 L84.90 196.16 L91.26 191.89 L97.62 187.48 L103.98 181.22 L110.34 174.61 L116.70 165.55 L123.06 154.37 L129.42 139.29 L135.78 128.02" fill="none" stroke="#ff5f0f" stroke-width="1.2" stroke-linejoin="round"/>
<path clip-path="url(#cC)" d="M53.10 202.22 L59.46 202.22 L65.82 202.22 L72.18 202.22 L78.54 200.87 L84.90 189.85 L91.26 178.00 L97.62 164.72 L103.98 145.91 L110.34 119.13" fill="none" stroke="#ff5f0f" stroke-width="1.2" stroke-linejoin="round"/>
<path clip-path="url(#cC)" d="M53.10 202.22 L59.46 202.22 L65.82 202.22 L72.18 202.22 L78.54 200.02 L84.90 175.88 L91.26 146.62 L97.62 110.66" fill="none" stroke="#ff5f0f" stroke-width="1.2" stroke-linejoin="round"/>
<rect x="51.50" y="200.28" width="3.20" height="3.20" fill="#111111" stroke="#111111" stroke-width="0.35"/>
<rect x="57.86" y="200.28" width="3.20" height="3.20" fill="#111111" stroke="#111111" stroke-width="0.35"/>
<rect x="64.22" y="200.28" width="3.20" height="3.20" fill="#111111" stroke="#111111" stroke-width="0.35"/>
<rect x="70.58" y="200.28" width="3.20" height="3.20" fill="#111111" stroke="#111111" stroke-width="0.35"/>
<rect x="76.94" y="200.28" width="3.20" height="3.20" fill="#111111" stroke="#111111" stroke-width="0.35"/>
<rect x="83.30" y="200.28" width="3.20" height="3.20" fill="#111111" stroke="#111111" stroke-width="0.35"/>
<rect x="89.66" y="200.28" width="3.20" height="3.20" fill="#111111" stroke="#111111" stroke-width="0.35"/>
<rect x="96.02" y="200.28" width="3.20" height="3.20" fill="#111111" stroke="#111111" stroke-width="0.35"/>
<rect x="102.38" y="200.28" width="3.20" height="3.20" fill="#111111" stroke="#111111" stroke-width="0.35"/>
<rect x="108.74" y="200.28" width="3.20" height="3.20" fill="#111111" stroke="#111111" stroke-width="0.35"/>
<rect x="115.10" y="200.28" width="3.20" height="3.20" fill="#111111" stroke="#111111" stroke-width="0.35"/>
<rect x="121.46" y="200.28" width="3.20" height="3.20" fill="#111111" stroke="#111111" stroke-width="0.35"/>
<rect x="127.82" y="200.28" width="3.20" height="3.20" fill="#111111" stroke="#111111" stroke-width="0.35"/>
<rect x="134.18" y="200.28" width="3.20" height="3.20" fill="#111111" stroke="#111111" stroke-width="0.35"/>
<rect x="140.54" y="200.28" width="3.20" height="3.20" fill="#111111" stroke="#111111" stroke-width="0.35"/>
<rect x="146.90" y="200.28" width="3.20" height="3.20" fill="#111111" stroke="#111111" stroke-width="0.35"/>
<rect x="153.26" y="200.28" width="3.20" height="3.20" fill="#111111" stroke="#111111" stroke-width="0.35"/>
<rect x="159.62" y="200.28" width="3.20" height="3.20" fill="#111111" stroke="#111111" stroke-width="0.35"/>
<rect x="165.98" y="200.28" width="3.20" height="3.20" fill="#111111" stroke="#111111" stroke-width="0.35"/>
<rect x="172.34" y="200.28" width="3.20" height="3.20" fill="#111111" stroke="#111111" stroke-width="0.35"/>
<rect x="178.70" y="200.28" width="3.20" height="3.20" fill="#111111" stroke="#111111" stroke-width="0.35"/>
<path d="M53.10 199.76L54.88 202.99L51.32 202.99Z" fill="#808080" stroke="#808080" stroke-width="0.35"/>
<path d="M59.46 199.76L61.24 202.99L57.68 202.99Z" fill="#808080" stroke="#808080" stroke-width="0.35"/>
<path d="M65.82 199.76L67.61 202.99L64.04 202.99Z" fill="#808080" stroke="#808080" stroke-width="0.35"/>
<path d="M72.18 199.76L73.97 202.99L70.40 202.99Z" fill="#808080" stroke="#808080" stroke-width="0.35"/>
<path d="M78.54 199.76L80.33 202.99L76.76 202.99Z" fill="#808080" stroke="#808080" stroke-width="0.35"/>
<path d="M84.90 199.76L86.69 202.99L83.12 202.99Z" fill="#808080" stroke="#808080" stroke-width="0.35"/>
<path d="M91.26 199.76L93.05 202.99L89.48 202.99Z" fill="#808080" stroke="#808080" stroke-width="0.35"/>
<path d="M97.62 199.76L99.41 202.99L95.84 202.99Z" fill="#808080" stroke="#808080" stroke-width="0.35"/>
<path d="M103.98 199.76L105.77 202.99L102.20 202.99Z" fill="#808080" stroke="#808080" stroke-width="0.35"/>
<path d="M110.34 199.76L112.12 202.99L108.56 202.99Z" fill="#808080" stroke="#808080" stroke-width="0.35"/>
<path d="M116.70 199.76L118.48 202.99L114.92 202.99Z" fill="#808080" stroke="#808080" stroke-width="0.35"/>
<path d="M123.06 199.76L124.84 202.99L121.28 202.99Z" fill="#808080" stroke="#808080" stroke-width="0.35"/>
<path d="M129.42 199.76L131.21 202.99L127.64 202.99Z" fill="#808080" stroke="#808080" stroke-width="0.35"/>
<path d="M135.78 199.76L137.56 202.99L134.00 202.99Z" fill="#808080" stroke="#808080" stroke-width="0.35"/>
<path d="M142.14 199.76L143.93 202.99L140.36 202.99Z" fill="#808080" stroke="#808080" stroke-width="0.35"/>
<path d="M148.50 199.76L150.28 202.99L146.72 202.99Z" fill="#808080" stroke="#808080" stroke-width="0.35"/>
<path d="M154.86 199.76L156.65 202.99L153.08 202.99Z" fill="#808080" stroke="#808080" stroke-width="0.35"/>
<path d="M161.22 199.76L163.00 202.99L159.44 202.99Z" fill="#808080" stroke="#808080" stroke-width="0.35"/>
<path d="M167.58 199.76L169.37 202.99L165.80 202.99Z" fill="#808080" stroke="#808080" stroke-width="0.35"/>
<path d="M173.94 199.76L175.72 202.99L172.16 202.99Z" fill="#808080" stroke="#808080" stroke-width="0.35"/>
<path d="M180.30 199.76L182.09 202.99L178.52 202.99Z" fill="#808080" stroke="#808080" stroke-width="0.35"/>
<circle cx="53.10" cy="201.37" r="1.75" fill="#808080" stroke="#808080" stroke-width="0.35"/>
<circle cx="59.46" cy="201.37" r="1.75" fill="#808080" stroke="#808080" stroke-width="0.35"/>
<circle cx="65.82" cy="201.37" r="1.75" fill="#808080" stroke="#808080" stroke-width="0.35"/>
<circle cx="72.18" cy="201.37" r="1.75" fill="#808080" stroke="#808080" stroke-width="0.35"/>
<circle cx="78.54" cy="201.37" r="1.75" fill="#808080" stroke="#808080" stroke-width="0.35"/>
<circle cx="84.90" cy="201.37" r="1.75" fill="#808080" stroke="#808080" stroke-width="0.35"/>
<circle cx="91.26" cy="201.37" r="1.75" fill="#808080" stroke="#808080" stroke-width="0.35"/>
<circle cx="97.62" cy="201.37" r="1.75" fill="#808080" stroke="#808080" stroke-width="0.35"/>
<circle cx="103.98" cy="201.37" r="1.75" fill="#808080" stroke="#808080" stroke-width="0.35"/>
<circle cx="110.34" cy="201.37" r="1.75" fill="#808080" stroke="#808080" stroke-width="0.35"/>
<circle cx="116.70" cy="201.37" r="1.75" fill="#808080" stroke="#808080" stroke-width="0.35"/>
<circle cx="123.06" cy="201.37" r="1.75" fill="#808080" stroke="#808080" stroke-width="0.35"/>
<circle cx="129.42" cy="201.37" r="1.75" fill="#808080" stroke="#808080" stroke-width="0.35"/>
<circle cx="135.78" cy="201.37" r="1.75" fill="#808080" stroke="#808080" stroke-width="0.35"/>
<circle cx="142.14" cy="201.37" r="1.75" fill="#808080" stroke="#808080" stroke-width="0.35"/>
<circle cx="148.50" cy="201.37" r="1.75" fill="#808080" stroke="#808080" stroke-width="0.35"/>
<circle cx="154.86" cy="201.37" r="1.75" fill="#808080" stroke="#808080" stroke-width="0.35"/>
<circle cx="161.22" cy="201.37" r="1.75" fill="#808080" stroke="#808080" stroke-width="0.35"/>
<circle cx="167.58" cy="201.37" r="1.75" fill="#808080" stroke="#808080" stroke-width="0.35"/>
<circle cx="173.94" cy="201.37" r="1.75" fill="#808080" stroke="#808080" stroke-width="0.35"/>
<circle cx="180.30" cy="201.37" r="1.75" fill="#808080" stroke="#808080" stroke-width="0.35"/>
<path d="M53.10 204.20L54.99 200.78L51.21 200.78Z" fill="#ff5f0f" stroke="#ff5f0f" stroke-width="0.35"/>
<path d="M59.46 204.20L61.35 200.78L57.57 200.78Z" fill="#ff5f0f" stroke="#ff5f0f" stroke-width="0.35"/>
<path d="M65.82 204.20L67.71 200.78L63.93 200.78Z" fill="#ff5f0f" stroke="#ff5f0f" stroke-width="0.35"/>
<path d="M72.18 204.20L74.07 200.78L70.29 200.78Z" fill="#ff5f0f" stroke="#ff5f0f" stroke-width="0.35"/>
<path d="M78.54 204.20L80.43 200.78L76.65 200.78Z" fill="#ff5f0f" stroke="#ff5f0f" stroke-width="0.35"/>
<path d="M84.90 204.20L86.79 200.78L83.01 200.78Z" fill="#ff5f0f" stroke="#ff5f0f" stroke-width="0.35"/>
<path d="M91.26 204.20L93.15 200.78L89.37 200.78Z" fill="#ff5f0f" stroke="#ff5f0f" stroke-width="0.35"/>
<path d="M97.62 204.20L99.51 200.78L95.73 200.78Z" fill="#ff5f0f" stroke="#ff5f0f" stroke-width="0.35"/>
<path d="M103.98 202.85L105.87 199.43L102.09 199.43Z" fill="#ff5f0f" stroke="#ff5f0f" stroke-width="0.35"/>
<path d="M110.34 201.41L112.23 197.99L108.45 197.99Z" fill="#ff5f0f" stroke="#ff5f0f" stroke-width="0.35"/>
<path d="M116.70 200.05L118.59 196.63L114.81 196.63Z" fill="#ff5f0f" stroke="#ff5f0f" stroke-width="0.35"/>
<path d="M123.06 198.70L124.95 195.28L121.17 195.28Z" fill="#ff5f0f" stroke="#ff5f0f" stroke-width="0.35"/>
<path d="M129.42 197.26L131.31 193.84L127.53 193.84Z" fill="#ff5f0f" stroke="#ff5f0f" stroke-width="0.35"/>
<path d="M135.78 195.77L137.67 192.35L133.89 192.35Z" fill="#ff5f0f" stroke="#ff5f0f" stroke-width="0.35"/>
<path d="M142.14 194.27L144.03 190.85L140.25 190.85Z" fill="#ff5f0f" stroke="#ff5f0f" stroke-width="0.35"/>
<path d="M148.50 192.60L150.39 189.18L146.61 189.18Z" fill="#ff5f0f" stroke="#ff5f0f" stroke-width="0.35"/>
<path d="M154.86 191.33L156.75 187.91L152.97 187.91Z" fill="#ff5f0f" stroke="#ff5f0f" stroke-width="0.35"/>
<path d="M161.22 189.89L163.11 186.47L159.33 186.47Z" fill="#ff5f0f" stroke="#ff5f0f" stroke-width="0.35"/>
<path d="M167.58 188.79L169.47 185.37L165.69 185.37Z" fill="#ff5f0f" stroke="#ff5f0f" stroke-width="0.35"/>
<path d="M173.94 187.18L175.83 183.76L172.05 183.76Z" fill="#ff5f0f" stroke="#ff5f0f" stroke-width="0.35"/>
<path d="M180.30 186.16L182.19 182.74L178.41 182.74Z" fill="#ff5f0f" stroke="#ff5f0f" stroke-width="0.35"/>
<path d="M53.10 200.06L54.72 202.22L53.10 204.38L51.48 202.22Z" fill="#ff5f0f" stroke="#ff5f0f" stroke-width="0.35"/>
<path d="M59.46 200.06L61.08 202.22L59.46 204.38L57.84 202.22Z" fill="#ff5f0f" stroke="#ff5f0f" stroke-width="0.35"/>
<path d="M65.82 200.06L67.44 202.22L65.82 204.38L64.20 202.22Z" fill="#ff5f0f" stroke="#ff5f0f" stroke-width="0.35"/>
<path d="M72.18 200.06L73.80 202.22L72.18 204.38L70.56 202.22Z" fill="#ff5f0f" stroke="#ff5f0f" stroke-width="0.35"/>
<path d="M78.54 200.06L80.16 202.22L78.54 204.38L76.92 202.22Z" fill="#ff5f0f" stroke="#ff5f0f" stroke-width="0.35"/>
<path d="M84.90 200.06L86.52 202.22L84.90 204.38L83.28 202.22Z" fill="#ff5f0f" stroke="#ff5f0f" stroke-width="0.35"/>
<path d="M91.26 196.42L92.88 198.58L91.26 200.74L89.64 198.58Z" fill="#ff5f0f" stroke="#ff5f0f" stroke-width="0.35"/>
<path d="M97.62 193.54L99.24 195.70L97.62 197.86L96.00 195.70Z" fill="#ff5f0f" stroke="#ff5f0f" stroke-width="0.35"/>
<path d="M103.98 189.22L105.60 191.38L103.98 193.54L102.36 191.38Z" fill="#ff5f0f" stroke="#ff5f0f" stroke-width="0.35"/>
<path d="M110.34 183.97L111.96 186.13L110.34 188.29L108.72 186.13Z" fill="#ff5f0f" stroke="#ff5f0f" stroke-width="0.35"/>
<path d="M116.70 179.06L118.32 181.22L116.70 183.38L115.08 181.22Z" fill="#ff5f0f" stroke="#ff5f0f" stroke-width="0.35"/>
<path d="M123.06 175.58L124.68 177.74L123.06 179.90L121.44 177.74Z" fill="#ff5f0f" stroke="#ff5f0f" stroke-width="0.35"/>
<path d="M129.42 173.72L131.04 175.88L129.42 178.04L127.80 175.88Z" fill="#ff5f0f" stroke="#ff5f0f" stroke-width="0.35"/>
<path d="M135.78 172.36L137.40 174.52L135.78 176.68L134.16 174.52Z" fill="#ff5f0f" stroke="#ff5f0f" stroke-width="0.35"/>
<path d="M142.14 169.65L143.76 171.81L142.14 173.97L140.52 171.81Z" fill="#ff5f0f" stroke="#ff5f0f" stroke-width="0.35"/>
<path d="M148.50 167.45L150.12 169.61L148.50 171.77L146.88 169.61Z" fill="#ff5f0f" stroke="#ff5f0f" stroke-width="0.35"/>
<path d="M154.86 165.42L156.48 167.58L154.86 169.74L153.24 167.58Z" fill="#ff5f0f" stroke="#ff5f0f" stroke-width="0.35"/>
<path d="M161.22 163.89L162.84 166.05L161.22 168.21L159.60 166.05Z" fill="#ff5f0f" stroke="#ff5f0f" stroke-width="0.35"/>
<path d="M167.58 162.71L169.20 164.87L167.58 167.03L165.96 164.87Z" fill="#ff5f0f" stroke="#ff5f0f" stroke-width="0.35"/>
<path d="M173.94 161.35L175.56 163.51L173.94 165.67L172.32 163.51Z" fill="#ff5f0f" stroke="#ff5f0f" stroke-width="0.35"/>
<path d="M180.30 160.25L181.92 162.41L180.30 164.57L178.68 162.41Z" fill="#ff5f0f" stroke="#ff5f0f" stroke-width="0.35"/>
<circle cx="53.10" cy="202.22" r="1.80" fill="none" stroke="#ff5f0f" stroke-width="1.05"/>
<circle cx="59.46" cy="202.22" r="1.80" fill="none" stroke="#ff5f0f" stroke-width="1.05"/>
<circle cx="65.82" cy="202.22" r="1.80" fill="none" stroke="#ff5f0f" stroke-width="1.05"/>
<circle cx="72.18" cy="202.22" r="1.80" fill="none" stroke="#ff5f0f" stroke-width="1.05"/>
<circle cx="78.54" cy="202.22" r="1.80" fill="none" stroke="#ff5f0f" stroke-width="1.05"/>
<circle cx="84.90" cy="196.16" r="1.80" fill="none" stroke="#ff5f0f" stroke-width="1.05"/>
<circle cx="91.26" cy="191.89" r="1.80" fill="none" stroke="#ff5f0f" stroke-width="1.05"/>
<circle cx="97.62" cy="187.48" r="1.80" fill="none" stroke="#ff5f0f" stroke-width="1.05"/>
<circle cx="103.98" cy="181.22" r="1.80" fill="none" stroke="#ff5f0f" stroke-width="1.05"/>
<circle cx="110.34" cy="174.61" r="1.80" fill="none" stroke="#ff5f0f" stroke-width="1.05"/>
<circle cx="116.70" cy="165.55" r="1.80" fill="none" stroke="#ff5f0f" stroke-width="1.05"/>
<circle cx="123.06" cy="154.37" r="1.80" fill="none" stroke="#ff5f0f" stroke-width="1.05"/>
<circle cx="129.42" cy="139.29" r="1.80" fill="none" stroke="#ff5f0f" stroke-width="1.05"/>
<circle cx="135.78" cy="128.02" r="1.80" fill="none" stroke="#ff5f0f" stroke-width="1.05"/>
<rect x="51.30" y="200.42" width="3.60" height="3.60" fill="none" stroke="#ff5f0f" stroke-width="1.05"/>
<rect x="57.66" y="200.42" width="3.60" height="3.60" fill="none" stroke="#ff5f0f" stroke-width="1.05"/>
<rect x="64.02" y="200.42" width="3.60" height="3.60" fill="none" stroke="#ff5f0f" stroke-width="1.05"/>
<rect x="70.38" y="200.42" width="3.60" height="3.60" fill="none" stroke="#ff5f0f" stroke-width="1.05"/>
<rect x="76.74" y="199.07" width="3.60" height="3.60" fill="none" stroke="#ff5f0f" stroke-width="1.05"/>
<rect x="83.10" y="188.05" width="3.60" height="3.60" fill="none" stroke="#ff5f0f" stroke-width="1.05"/>
<rect x="89.46" y="176.20" width="3.60" height="3.60" fill="none" stroke="#ff5f0f" stroke-width="1.05"/>
<rect x="95.82" y="162.92" width="3.60" height="3.60" fill="none" stroke="#ff5f0f" stroke-width="1.05"/>
<rect x="102.18" y="144.11" width="3.60" height="3.60" fill="none" stroke="#ff5f0f" stroke-width="1.05"/>
<path d="M53.10 200.24L54.99 203.66L51.21 203.66Z" fill="none" stroke="#ff5f0f" stroke-width="1.05"/>
<path d="M59.46 200.24L61.35 203.66L57.57 203.66Z" fill="none" stroke="#ff5f0f" stroke-width="1.05"/>
<path d="M65.82 200.24L67.71 203.66L63.93 203.66Z" fill="none" stroke="#ff5f0f" stroke-width="1.05"/>
<path d="M72.18 200.24L74.07 203.66L70.29 203.66Z" fill="none" stroke="#ff5f0f" stroke-width="1.05"/>
<path d="M78.54 198.04L80.43 201.46L76.65 201.46Z" fill="none" stroke="#ff5f0f" stroke-width="1.05"/>
<path d="M84.90 173.90L86.79 177.32L83.01 177.32Z" fill="none" stroke="#ff5f0f" stroke-width="1.05"/>
<path d="M91.26 144.64L93.15 148.06L89.37 148.06Z" fill="none" stroke="#ff5f0f" stroke-width="1.05"/>
<line x1="53.10" y1="127.10" x2="53.10" y2="212.80" stroke="#707070" stroke-width="2.0"/>
<line x1="52.60" y1="212.30" x2="180.80" y2="212.30" stroke="#2a2a2a" stroke-width="1.2"/>
<line x1="50.50" y1="212.30" x2="53.10" y2="212.30" stroke="#141414" stroke-width="1"/>
<text transform="translate(50.20 215.10) scale(0.95 1)" text-anchor="end" class="tk">0</text>
<line x1="50.50" y1="195.36" x2="53.10" y2="195.36" stroke="#141414" stroke-width="1"/>
<text transform="translate(50.20 198.16) scale(0.95 1)" text-anchor="end" class="tk">2,000</text>
<line x1="50.50" y1="178.42" x2="53.10" y2="178.42" stroke="#141414" stroke-width="1"/>
<text transform="translate(50.20 181.22) scale(0.95 1)" text-anchor="end" class="tk">4,000</text>
<line x1="50.50" y1="161.48" x2="53.10" y2="161.48" stroke="#141414" stroke-width="1"/>
<text transform="translate(50.20 164.28) scale(0.95 1)" text-anchor="end" class="tk">6,000</text>
<line x1="50.50" y1="144.54" x2="53.10" y2="144.54" stroke="#141414" stroke-width="1"/>
<text transform="translate(50.20 147.34) scale(0.95 1)" text-anchor="end" class="tk">8,000</text>
<line x1="50.50" y1="127.60" x2="53.10" y2="127.60" stroke="#141414" stroke-width="1"/>
<text transform="translate(50.20 130.40) scale(0.95 1)" text-anchor="end" class="tk">10,000</text>
<line x1="53.10" y1="212.30" x2="53.10" y2="214.90" stroke="#141414" stroke-width="1"/>
<text transform="translate(53.10 220.20) scale(0.95 1)" text-anchor="middle" class="tk">0</text>
<line x1="84.90" y1="212.30" x2="84.90" y2="214.90" stroke="#141414" stroke-width="1"/>
<text transform="translate(84.90 220.20) scale(0.95 1)" text-anchor="middle" class="tk">5</text>
<line x1="116.70" y1="212.30" x2="116.70" y2="214.90" stroke="#141414" stroke-width="1"/>
<text transform="translate(116.70 220.20) scale(0.95 1)" text-anchor="middle" class="tk">10</text>
<line x1="148.50" y1="212.30" x2="148.50" y2="214.90" stroke="#141414" stroke-width="1"/>
<text transform="translate(148.50 220.20) scale(0.95 1)" text-anchor="middle" class="tk">15</text>
<line x1="180.30" y1="212.30" x2="180.30" y2="214.90" stroke="#141414" stroke-width="1"/>
<text transform="translate(180.30 220.20) scale(0.95 1)" text-anchor="middle" class="tk">20</text>
<text transform="translate(116.70 230.50) scale(0.925 1)" text-anchor="middle" class="ttl">Time(min)</text>
<text transform="translate(27.20 169.85) rotate(-90) scale(0.925 1)" text-anchor="middle" class="ttl">Fluorescence unit(mV)</text>
<text transform="translate(3.20 146.30)" class="let">C</text>
<line x1="185.00" y1="127.70" x2="194.00" y2="127.70" stroke="#111111" stroke-width="1"/>
<rect x="187.85" y="126.05" width="3.30" height="3.30" fill="#111111" stroke="#111111" stroke-width="0.35"/>
<text transform="translate(198.60 130.70)" class="lg">Negative control</text>
<line x1="185.00" y1="137.40" x2="194.00" y2="137.40" stroke="#808080" stroke-width="1"/>
<circle cx="189.50" cy="137.40" r="1.65" fill="#808080" stroke="#808080" stroke-width="0.35"/>
<text transform="translate(198.60 140.50)" class="lg">1fg/μL</text>
<line x1="185.00" y1="147.10" x2="194.00" y2="147.10" stroke="#808080" stroke-width="1"/>
<path d="M189.50 145.28L191.23 148.42L187.77 148.42Z" fill="#808080" stroke="#808080" stroke-width="0.35"/>
<text transform="translate(198.60 150.30)" class="lg">0.01pg/μL</text>
<line x1="185.00" y1="156.80" x2="194.00" y2="156.80" stroke="#ff5f0f" stroke-width="1"/>
<path d="M189.50 158.62L191.23 155.48L187.77 155.48Z" fill="#ff5f0f" stroke="#ff5f0f" stroke-width="0.35"/>
<text transform="translate(198.60 160.10)" class="lg">0.1pg/μL</text>
<line x1="185.00" y1="166.50" x2="194.00" y2="166.50" stroke="#ff5f0f" stroke-width="1"/>
<path d="M189.50 164.52L190.99 166.50L189.50 168.48L188.01 166.50Z" fill="#ff5f0f" stroke="#ff5f0f" stroke-width="0.35"/>
<text transform="translate(198.60 169.90)" class="lg">1pg/μL</text>
<line x1="185.00" y1="176.20" x2="194.00" y2="176.20" stroke="#ff5f0f" stroke-width="1"/>
<circle cx="189.50" cy="176.20" r="1.65" fill="none" stroke="#ff5f0f" stroke-width="1.0"/>
<text transform="translate(198.60 179.70)" class="lg">0.01ng/μL</text>
<line x1="185.00" y1="185.90" x2="194.00" y2="185.90" stroke="#ff5f0f" stroke-width="1"/>
<rect x="187.85" y="184.25" width="3.30" height="3.30" fill="none" stroke="#ff5f0f" stroke-width="1.0"/>
<text transform="translate(198.60 189.50)" class="lg">0.1ng/μL</text>
<line x1="185.00" y1="195.60" x2="194.00" y2="195.60" stroke="#ff5f0f" stroke-width="1"/>
<path d="M189.50 193.78L191.23 196.92L187.77 196.92Z" fill="none" stroke="#ff5f0f" stroke-width="1.0"/>
<text transform="translate(198.60 199.30)" class="lg">1ng/μL</text>
<clipPath id="cD"><rect x="323.0" y="125.8" width="141.4" height="91.14999999999999"/></clipPath>
<path clip-path="url(#cD)" d="M329.00 200.81 L335.37 200.81 L341.74 200.81 L348.11 200.81 L354.48 200.81 L360.85 200.81 L367.22 200.81 L373.59 200.81 L379.96 200.81 L386.33 200.81 L392.70 200.81 L399.07 200.81 L405.44 200.81 L411.81 200.81 L418.18 200.81 L424.55 200.81 L430.92 200.81 L437.29 200.81 L443.66 200.81 L450.03 200.81 L456.40 200.81" fill="none" stroke="#111111" stroke-width="1.2" stroke-linejoin="round"/>
<path clip-path="url(#cD)" d="M329.00 200.64 L335.37 200.64 L341.74 200.64 L348.11 200.64 L354.48 200.64 L360.85 200.64 L367.22 200.64 L373.59 200.64 L379.96 200.64 L386.33 200.64 L392.70 200.64 L399.07 200.64 L405.44 200.64 L411.81 200.64 L418.18 200.64 L424.55 200.64 L430.92 200.64 L437.29 200.64 L443.66 200.64 L450.03 200.64 L456.40 200.64" fill="none" stroke="#808080" stroke-width="1.2" stroke-linejoin="round"/>
<path clip-path="url(#cD)" d="M329.00 200.38 L335.37 200.38 L341.74 200.38 L348.11 200.38 L354.48 200.38 L360.85 200.38 L367.22 200.38 L373.59 200.38 L379.96 200.38 L386.33 200.38 L392.70 200.38 L399.07 200.38 L405.44 200.38 L411.81 200.38 L418.18 200.38 L424.55 200.38 L430.92 200.38 L437.29 200.38 L443.66 200.38 L450.03 200.38 L456.40 200.38" fill="none" stroke="#555" stroke-width="1.2" stroke-linejoin="round"/>
<path clip-path="url(#cD)" d="M329.00 201.40 L335.37 201.40 L341.74 201.40 L348.11 201.40 L354.48 201.40 L360.85 201.40 L367.22 201.40 L373.59 201.40 L379.96 197.57 L386.33 191.10 L392.70 179.35 L399.07 166.07 L405.44 154.31 L411.81 144.61 L418.18 135.84 L424.55 128.51 L430.92 123.83" fill="none" stroke="#17a5e3" stroke-width="1.2" stroke-linejoin="round"/>
<path clip-path="url(#cD)" d="M329.00 201.40 L335.37 201.40 L341.74 201.40 L348.11 201.40 L354.48 201.40 L360.85 201.40 L367.22 198.00 L373.59 188.46 L379.96 168.70 L386.33 141.12 L392.70 123.75" fill="none" stroke="#17a5e3" stroke-width="1.2" stroke-linejoin="round"/>
<path clip-path="url(#cD)" d="M329.00 201.40 L335.37 201.40 L341.74 201.40 L348.11 201.40 L354.48 199.19 L360.85 189.57 L367.22 158.91 L373.59 119.49" fill="none" stroke="#17a5e3" stroke-width="1.2" stroke-linejoin="round"/>
<path clip-path="url(#cD)" d="M329.00 201.40 L335.37 201.40 L341.74 201.40 L348.11 201.40 L354.48 182.84 L360.85 127.15" fill="none" stroke="#17a5e3" stroke-width="1.2" stroke-linejoin="round"/>
<path clip-path="url(#cD)" d="M329.00 201.40 L335.37 201.40 L341.74 201.40 L348.11 201.40 L354.48 132.77 L360.85 -1.43" fill="none" stroke="#17a5e3" stroke-width="1.2" stroke-linejoin="round"/>
<rect x="327.50" y="199.31" width="3.00" height="3.00" fill="#111111" stroke="#111111" stroke-width="0.35"/>
<rect x="333.87" y="199.31" width="3.00" height="3.00" fill="#111111" stroke="#111111" stroke-width="0.35"/>
<rect x="340.24" y="199.31" width="3.00" height="3.00" fill="#111111" stroke="#111111" stroke-width="0.35"/>
<rect x="346.61" y="199.31" width="3.00" height="3.00" fill="#111111" stroke="#111111" stroke-width="0.35"/>
<rect x="352.98" y="199.31" width="3.00" height="3.00" fill="#111111" stroke="#111111" stroke-width="0.35"/>
<rect x="359.35" y="199.31" width="3.00" height="3.00" fill="#111111" stroke="#111111" stroke-width="0.35"/>
<rect x="365.72" y="199.31" width="3.00" height="3.00" fill="#111111" stroke="#111111" stroke-width="0.35"/>
<rect x="372.09" y="199.31" width="3.00" height="3.00" fill="#111111" stroke="#111111" stroke-width="0.35"/>
<rect x="378.46" y="199.31" width="3.00" height="3.00" fill="#111111" stroke="#111111" stroke-width="0.35"/>
<rect x="384.83" y="199.31" width="3.00" height="3.00" fill="#111111" stroke="#111111" stroke-width="0.35"/>
<rect x="391.20" y="199.31" width="3.00" height="3.00" fill="#111111" stroke="#111111" stroke-width="0.35"/>
<rect x="397.57" y="199.31" width="3.00" height="3.00" fill="#111111" stroke="#111111" stroke-width="0.35"/>
<rect x="403.94" y="199.31" width="3.00" height="3.00" fill="#111111" stroke="#111111" stroke-width="0.35"/>
<rect x="410.31" y="199.31" width="3.00" height="3.00" fill="#111111" stroke="#111111" stroke-width="0.35"/>
<rect x="416.68" y="199.31" width="3.00" height="3.00" fill="#111111" stroke="#111111" stroke-width="0.35"/>
<rect x="423.05" y="199.31" width="3.00" height="3.00" fill="#111111" stroke="#111111" stroke-width="0.35"/>
<rect x="429.42" y="199.31" width="3.00" height="3.00" fill="#111111" stroke="#111111" stroke-width="0.35"/>
<rect x="435.79" y="199.31" width="3.00" height="3.00" fill="#111111" stroke="#111111" stroke-width="0.35"/>
<rect x="442.16" y="199.31" width="3.00" height="3.00" fill="#111111" stroke="#111111" stroke-width="0.35"/>
<rect x="448.53" y="199.31" width="3.00" height="3.00" fill="#111111" stroke="#111111" stroke-width="0.35"/>
<rect x="454.90" y="199.31" width="3.00" height="3.00" fill="#111111" stroke="#111111" stroke-width="0.35"/>
<path d="M329.00 198.99L330.57 201.84L327.43 201.84Z" fill="#808080" stroke="#808080" stroke-width="0.35"/>
<path d="M335.37 198.99L336.94 201.84L333.80 201.84Z" fill="#808080" stroke="#808080" stroke-width="0.35"/>
<path d="M341.74 198.99L343.31 201.84L340.17 201.84Z" fill="#808080" stroke="#808080" stroke-width="0.35"/>
<path d="M348.11 198.99L349.69 201.84L346.54 201.84Z" fill="#808080" stroke="#808080" stroke-width="0.35"/>
<path d="M354.48 198.99L356.06 201.84L352.91 201.84Z" fill="#808080" stroke="#808080" stroke-width="0.35"/>
<path d="M360.85 198.99L362.43 201.84L359.28 201.84Z" fill="#808080" stroke="#808080" stroke-width="0.35"/>
<path d="M367.22 198.99L368.80 201.84L365.65 201.84Z" fill="#808080" stroke="#808080" stroke-width="0.35"/>
<path d="M373.59 198.99L375.17 201.84L372.02 201.84Z" fill="#808080" stroke="#808080" stroke-width="0.35"/>
<path d="M379.96 198.99L381.53 201.84L378.38 201.84Z" fill="#808080" stroke="#808080" stroke-width="0.35"/>
<path d="M386.33 198.99L387.90 201.84L384.75 201.84Z" fill="#808080" stroke="#808080" stroke-width="0.35"/>
<path d="M392.70 198.99L394.27 201.84L391.12 201.84Z" fill="#808080" stroke="#808080" stroke-width="0.35"/>
<path d="M399.07 198.99L400.64 201.84L397.50 201.84Z" fill="#808080" stroke="#808080" stroke-width="0.35"/>
<path d="M405.44 198.99L407.01 201.84L403.87 201.84Z" fill="#808080" stroke="#808080" stroke-width="0.35"/>
<path d="M411.81 198.99L413.38 201.84L410.24 201.84Z" fill="#808080" stroke="#808080" stroke-width="0.35"/>
<path d="M418.18 198.99L419.75 201.84L416.61 201.84Z" fill="#808080" stroke="#808080" stroke-width="0.35"/>
<path d="M424.55 198.99L426.12 201.84L422.98 201.84Z" fill="#808080" stroke="#808080" stroke-width="0.35"/>
<path d="M430.92 198.99L432.50 201.84L429.35 201.84Z" fill="#808080" stroke="#808080" stroke-width="0.35"/>
<path d="M437.29 198.99L438.87 201.84L435.72 201.84Z" fill="#808080" stroke="#808080" stroke-width="0.35"/>
<path d="M443.66 198.99L445.23 201.84L442.08 201.84Z" fill="#808080" stroke="#808080" stroke-width="0.35"/>
<path d="M450.03 198.99L451.60 201.84L448.45 201.84Z" fill="#808080" stroke="#808080" stroke-width="0.35"/>
<path d="M456.40 198.99L457.97 201.84L454.82 201.84Z" fill="#808080" stroke="#808080" stroke-width="0.35"/>
<circle cx="329.00" cy="200.38" r="1.65" fill="#808080" stroke="#808080" stroke-width="0.35"/>
<circle cx="335.37" cy="200.38" r="1.65" fill="#808080" stroke="#808080" stroke-width="0.35"/>
<circle cx="341.74" cy="200.38" r="1.65" fill="#808080" stroke="#808080" stroke-width="0.35"/>
<circle cx="348.11" cy="200.38" r="1.65" fill="#808080" stroke="#808080" stroke-width="0.35"/>
<circle cx="354.48" cy="200.38" r="1.65" fill="#808080" stroke="#808080" stroke-width="0.35"/>
<circle cx="360.85" cy="200.38" r="1.65" fill="#808080" stroke="#808080" stroke-width="0.35"/>
<circle cx="367.22" cy="200.38" r="1.65" fill="#808080" stroke="#808080" stroke-width="0.35"/>
<circle cx="373.59" cy="200.38" r="1.65" fill="#808080" stroke="#808080" stroke-width="0.35"/>
<circle cx="379.96" cy="200.38" r="1.65" fill="#808080" stroke="#808080" stroke-width="0.35"/>
<circle cx="386.33" cy="200.38" r="1.65" fill="#808080" stroke="#808080" stroke-width="0.35"/>
<circle cx="392.70" cy="200.38" r="1.65" fill="#808080" stroke="#808080" stroke-width="0.35"/>
<circle cx="399.07" cy="200.38" r="1.65" fill="#808080" stroke="#808080" stroke-width="0.35"/>
<circle cx="405.44" cy="200.38" r="1.65" fill="#808080" stroke="#808080" stroke-width="0.35"/>
<circle cx="411.81" cy="200.38" r="1.65" fill="#808080" stroke="#808080" stroke-width="0.35"/>
<circle cx="418.18" cy="200.38" r="1.65" fill="#808080" stroke="#808080" stroke-width="0.35"/>
<circle cx="424.55" cy="200.38" r="1.65" fill="#808080" stroke="#808080" stroke-width="0.35"/>
<circle cx="430.92" cy="200.38" r="1.65" fill="#808080" stroke="#808080" stroke-width="0.35"/>
<circle cx="437.29" cy="200.38" r="1.65" fill="#808080" stroke="#808080" stroke-width="0.35"/>
<circle cx="443.66" cy="200.38" r="1.65" fill="#808080" stroke="#808080" stroke-width="0.35"/>
<circle cx="450.03" cy="200.38" r="1.65" fill="#808080" stroke="#808080" stroke-width="0.35"/>
<circle cx="456.40" cy="200.38" r="1.65" fill="#808080" stroke="#808080" stroke-width="0.35"/>
<path d="M329.00 203.38L330.89 199.96L327.11 199.96Z" fill="#17a5e3" stroke="#17a5e3" stroke-width="0.35"/>
<path d="M335.37 203.38L337.26 199.96L333.48 199.96Z" fill="#17a5e3" stroke="#17a5e3" stroke-width="0.35"/>
<path d="M341.74 203.38L343.63 199.96L339.85 199.96Z" fill="#17a5e3" stroke="#17a5e3" stroke-width="0.35"/>
<path d="M348.11 203.38L350.00 199.96L346.22 199.96Z" fill="#17a5e3" stroke="#17a5e3" stroke-width="0.35"/>
<path d="M354.48 203.38L356.37 199.96L352.59 199.96Z" fill="#17a5e3" stroke="#17a5e3" stroke-width="0.35"/>
<path d="M360.85 203.38L362.74 199.96L358.96 199.96Z" fill="#17a5e3" stroke="#17a5e3" stroke-width="0.35"/>
<path d="M367.22 203.38L369.11 199.96L365.33 199.96Z" fill="#17a5e3" stroke="#17a5e3" stroke-width="0.35"/>
<path d="M373.59 203.38L375.48 199.96L371.70 199.96Z" fill="#17a5e3" stroke="#17a5e3" stroke-width="0.35"/>
<path d="M379.96 199.55L381.85 196.13L378.07 196.13Z" fill="#17a5e3" stroke="#17a5e3" stroke-width="0.35"/>
<path d="M386.33 193.08L388.22 189.66L384.44 189.66Z" fill="#17a5e3" stroke="#17a5e3" stroke-width="0.35"/>
<path d="M392.70 181.33L394.59 177.91L390.81 177.91Z" fill="#17a5e3" stroke="#17a5e3" stroke-width="0.35"/>
<path d="M399.07 168.05L400.96 164.63L397.18 164.63Z" fill="#17a5e3" stroke="#17a5e3" stroke-width="0.35"/>
<path d="M405.44 156.29L407.33 152.87L403.55 152.87Z" fill="#17a5e3" stroke="#17a5e3" stroke-width="0.35"/>
<path d="M411.81 146.59L413.70 143.17L409.92 143.17Z" fill="#17a5e3" stroke="#17a5e3" stroke-width="0.35"/>
<path d="M418.18 137.82L420.07 134.40L416.29 134.40Z" fill="#17a5e3" stroke="#17a5e3" stroke-width="0.35"/>
<path d="M424.55 130.49L426.44 127.07L422.66 127.07Z" fill="#17a5e3" stroke="#17a5e3" stroke-width="0.35"/>
<path d="M329.00 199.24L330.62 201.40L329.00 203.56L327.38 201.40Z" fill="#17a5e3" stroke="#17a5e3" stroke-width="0.35"/>
<path d="M335.37 199.24L336.99 201.40L335.37 203.56L333.75 201.40Z" fill="#17a5e3" stroke="#17a5e3" stroke-width="0.35"/>
<path d="M341.74 199.24L343.36 201.40L341.74 203.56L340.12 201.40Z" fill="#17a5e3" stroke="#17a5e3" stroke-width="0.35"/>
<path d="M348.11 199.24L349.73 201.40L348.11 203.56L346.49 201.40Z" fill="#17a5e3" stroke="#17a5e3" stroke-width="0.35"/>
<path d="M354.48 199.24L356.10 201.40L354.48 203.56L352.86 201.40Z" fill="#17a5e3" stroke="#17a5e3" stroke-width="0.35"/>
<path d="M360.85 199.24L362.47 201.40L360.85 203.56L359.23 201.40Z" fill="#17a5e3" stroke="#17a5e3" stroke-width="0.35"/>
<path d="M367.22 195.84L368.84 198.00L367.22 200.16L365.60 198.00Z" fill="#17a5e3" stroke="#17a5e3" stroke-width="0.35"/>
<path d="M373.59 186.30L375.21 188.46L373.59 190.62L371.97 188.46Z" fill="#17a5e3" stroke="#17a5e3" stroke-width="0.35"/>
<path d="M379.96 166.54L381.58 168.70L379.96 170.86L378.34 168.70Z" fill="#17a5e3" stroke="#17a5e3" stroke-width="0.35"/>
<path d="M386.33 138.96L387.95 141.12L386.33 143.28L384.71 141.12Z" fill="#17a5e3" stroke="#17a5e3" stroke-width="0.35"/>
<circle cx="329.00" cy="201.40" r="1.80" fill="none" stroke="#17a5e3" stroke-width="1.05"/>
<circle cx="335.37" cy="201.40" r="1.80" fill="none" stroke="#17a5e3" stroke-width="1.05"/>
<circle cx="341.74" cy="201.40" r="1.80" fill="none" stroke="#17a5e3" stroke-width="1.05"/>
<circle cx="348.11" cy="201.40" r="1.80" fill="none" stroke="#17a5e3" stroke-width="1.05"/>
<circle cx="354.48" cy="199.19" r="1.80" fill="none" stroke="#17a5e3" stroke-width="1.05"/>
<circle cx="360.85" cy="189.57" r="1.80" fill="none" stroke="#17a5e3" stroke-width="1.05"/>
<circle cx="367.22" cy="158.91" r="1.80" fill="none" stroke="#17a5e3" stroke-width="1.05"/>
<rect x="327.20" y="199.60" width="3.60" height="3.60" fill="none" stroke="#17a5e3" stroke-width="1.05"/>
<rect x="333.57" y="199.60" width="3.60" height="3.60" fill="none" stroke="#17a5e3" stroke-width="1.05"/>
<rect x="339.94" y="199.60" width="3.60" height="3.60" fill="none" stroke="#17a5e3" stroke-width="1.05"/>
<rect x="346.31" y="199.60" width="3.60" height="3.60" fill="none" stroke="#17a5e3" stroke-width="1.05"/>
<rect x="352.68" y="181.04" width="3.60" height="3.60" fill="none" stroke="#17a5e3" stroke-width="1.05"/>
<rect x="359.05" y="125.35" width="3.60" height="3.60" fill="none" stroke="#17a5e3" stroke-width="1.05"/>
<path d="M329.00 199.42L330.89 202.84L327.11 202.84Z" fill="none" stroke="#17a5e3" stroke-width="1.05"/>
<path d="M335.37 199.42L337.26 202.84L333.48 202.84Z" fill="none" stroke="#17a5e3" stroke-width="1.05"/>
<path d="M341.74 199.42L343.63 202.84L339.85 202.84Z" fill="none" stroke="#17a5e3" stroke-width="1.05"/>
<path d="M348.11 199.42L350.00 202.84L346.22 202.84Z" fill="none" stroke="#17a5e3" stroke-width="1.05"/>
<path d="M354.48 130.79L356.37 134.21L352.59 134.21Z" fill="none" stroke="#17a5e3" stroke-width="1.05"/>
<line x1="329.00" y1="125.80" x2="329.00" y2="211.95" stroke="#707070" stroke-width="2.0"/>
<line x1="328.50" y1="211.45" x2="456.90" y2="211.45" stroke="#2a2a2a" stroke-width="1.2"/>
<line x1="326.40" y1="211.45" x2="329.00" y2="211.45" stroke="#141414" stroke-width="1"/>
<text transform="translate(326.10 214.25) scale(0.95 1)" text-anchor="end" class="tk">0</text>
<line x1="326.40" y1="194.42" x2="329.00" y2="194.42" stroke="#141414" stroke-width="1"/>
<text transform="translate(326.10 197.22) scale(0.95 1)" text-anchor="end" class="tk">2,000</text>
<line x1="326.40" y1="177.39" x2="329.00" y2="177.39" stroke="#141414" stroke-width="1"/>
<text transform="translate(326.10 180.19) scale(0.95 1)" text-anchor="end" class="tk">4,000</text>
<line x1="326.40" y1="160.36" x2="329.00" y2="160.36" stroke="#141414" stroke-width="1"/>
<text transform="translate(326.10 163.16) scale(0.95 1)" text-anchor="end" class="tk">6,000</text>
<line x1="326.40" y1="143.33" x2="329.00" y2="143.33" stroke="#141414" stroke-width="1"/>
<text transform="translate(326.10 146.13) scale(0.95 1)" text-anchor="end" class="tk">8,000</text>
<line x1="326.40" y1="126.30" x2="329.00" y2="126.30" stroke="#141414" stroke-width="1"/>
<text transform="translate(326.10 129.10) scale(0.95 1)" text-anchor="end" class="tk">10,000</text>
<line x1="329.00" y1="211.45" x2="329.00" y2="214.05" stroke="#141414" stroke-width="1"/>
<text transform="translate(329.00 219.95) scale(0.95 1)" text-anchor="middle" class="tk">0</text>
<line x1="360.85" y1="211.45" x2="360.85" y2="214.05" stroke="#141414" stroke-width="1"/>
<text transform="translate(360.85 219.95) scale(0.95 1)" text-anchor="middle" class="tk">5</text>
<line x1="392.70" y1="211.45" x2="392.70" y2="214.05" stroke="#141414" stroke-width="1"/>
<text transform="translate(392.70 219.95) scale(0.95 1)" text-anchor="middle" class="tk">10</text>
<line x1="424.55" y1="211.45" x2="424.55" y2="214.05" stroke="#141414" stroke-width="1"/>
<text transform="translate(424.55 219.95) scale(0.95 1)" text-anchor="middle" class="tk">15</text>
<line x1="456.40" y1="211.45" x2="456.40" y2="214.05" stroke="#141414" stroke-width="1"/>
<text transform="translate(456.40 219.95) scale(0.95 1)" text-anchor="middle" class="tk">20</text>
<text transform="translate(392.30 229.00) scale(0.925 1)" text-anchor="middle" class="ttl">Time(min)</text>
<text transform="translate(302.30 168.40) rotate(-90) scale(0.925 1)" text-anchor="middle" class="ttl">Fluorescence unit(mV)</text>
<text transform="translate(275.30 144.60)" class="let">D</text>
<line x1="460.00" y1="125.70" x2="469.00" y2="125.70" stroke="#111111" stroke-width="1"/>
<rect x="462.85" y="124.05" width="3.30" height="3.30" fill="#111111" stroke="#111111" stroke-width="0.35"/>
<text transform="translate(474.20 128.70)" class="lg">Negative control</text>
<line x1="460.00" y1="135.53" x2="469.00" y2="135.53" stroke="#808080" stroke-width="1"/>
<circle cx="464.50" cy="135.53" r="1.65" fill="#808080" stroke="#808080" stroke-width="0.35"/>
<text transform="translate(474.20 138.63)" class="lg">1fg/μL</text>
<line x1="460.00" y1="145.36" x2="469.00" y2="145.36" stroke="#808080" stroke-width="1"/>
<path d="M464.50 143.55L466.23 146.68L462.77 146.68Z" fill="#808080" stroke="#808080" stroke-width="0.35"/>
<text transform="translate(474.20 148.56)" class="lg">0.01pg/μL</text>
<line x1="460.00" y1="155.19" x2="469.00" y2="155.19" stroke="#17a5e3" stroke-width="1"/>
<path d="M464.50 157.00L466.23 153.87L462.77 153.87Z" fill="#17a5e3" stroke="#17a5e3" stroke-width="0.35"/>
<text transform="translate(474.20 158.49)" class="lg">0.1pg/μL</text>
<line x1="460.00" y1="165.02" x2="469.00" y2="165.02" stroke="#17a5e3" stroke-width="1"/>
<path d="M464.50 163.04L465.99 165.02L464.50 167.00L463.01 165.02Z" fill="#17a5e3" stroke="#17a5e3" stroke-width="0.35"/>
<text transform="translate(474.20 168.42)" class="lg">1pg/μL</text>
<line x1="460.00" y1="174.85" x2="469.00" y2="174.85" stroke="#17a5e3" stroke-width="1"/>
<circle cx="464.50" cy="174.85" r="1.65" fill="none" stroke="#17a5e3" stroke-width="1.0"/>
<text transform="translate(474.20 178.35)" class="lg">0.01ng/μL</text>
<line x1="460.00" y1="184.68" x2="469.00" y2="184.68" stroke="#17a5e3" stroke-width="1"/>
<rect x="462.85" y="183.03" width="3.30" height="3.30" fill="none" stroke="#17a5e3" stroke-width="1.0"/>
<text transform="translate(474.20 188.28)" class="lg">0.1ng/μL</text>
<line x1="460.00" y1="194.51" x2="469.00" y2="194.51" stroke="#17a5e3" stroke-width="1"/>
<path d="M464.50 192.69L466.23 195.83L462.77 195.83Z" fill="none" stroke="#17a5e3" stroke-width="1.0"/>
<text transform="translate(474.20 198.21)" class="lg">1ng/μL</text>
<clipPath id="cE"><rect x="45.8" y="250.9" width="141.5" height="90.99999999999997"/></clipPath>
<path clip-path="url(#cE)" d="M51.80 317.87 L58.17 317.87 L64.55 317.87 L70.92 317.87 L77.30 317.87 L83.67 317.87 L90.05 317.87 L96.42 317.87 L102.80 317.87 L109.17 317.87 L115.55 317.87 L121.92 317.87 L128.30 317.87 L134.68 317.87 L141.05 317.87 L147.43 317.87 L153.80 317.87 L160.18 317.87 L166.55 317.87 L172.93 317.87 L179.30 317.87" fill="none" stroke="#555" stroke-width="1.2" stroke-linejoin="round"/>
<path clip-path="url(#cE)" d="M51.80 317.87 L58.17 317.87 L64.55 317.87 L70.92 317.87 L77.30 317.87 L83.67 317.87 L90.05 317.87 L96.42 317.87 L102.80 317.87 L109.17 315.37 L115.55 313.38 L121.92 310.17 L128.30 305.36 L134.68 299.46 L141.05 292.15 L147.43 284.21 L153.80 275.88 L160.18 267.55 L166.55 259.22 L172.93 249.70" fill="none" stroke="#ff5f0f" stroke-width="1.2" stroke-linejoin="round"/>
<circle cx="51.80" cy="317.87" r="1.60" fill="#ff5f0f" stroke="#ff5f0f" stroke-width="0.35"/>
<circle cx="58.17" cy="317.87" r="1.60" fill="#ff5f0f" stroke="#ff5f0f" stroke-width="0.35"/>
<circle cx="64.55" cy="317.87" r="1.60" fill="#ff5f0f" stroke="#ff5f0f" stroke-width="0.35"/>
<circle cx="70.92" cy="317.87" r="1.60" fill="#ff5f0f" stroke="#ff5f0f" stroke-width="0.35"/>
<circle cx="77.30" cy="317.87" r="1.60" fill="#ff5f0f" stroke="#ff5f0f" stroke-width="0.35"/>
<circle cx="83.67" cy="317.87" r="1.60" fill="#ff5f0f" stroke="#ff5f0f" stroke-width="0.35"/>
<circle cx="90.05" cy="317.87" r="1.60" fill="#ff5f0f" stroke="#ff5f0f" stroke-width="0.35"/>
<circle cx="96.42" cy="317.87" r="1.60" fill="#ff5f0f" stroke="#ff5f0f" stroke-width="0.35"/>
<circle cx="102.80" cy="317.87" r="1.60" fill="#ff5f0f" stroke="#ff5f0f" stroke-width="0.35"/>
<circle cx="109.17" cy="315.37" r="1.60" fill="#ff5f0f" stroke="#ff5f0f" stroke-width="0.35"/>
<circle cx="115.55" cy="313.38" r="1.60" fill="#ff5f0f" stroke="#ff5f0f" stroke-width="0.35"/>
<circle cx="121.92" cy="310.17" r="1.60" fill="#ff5f0f" stroke="#ff5f0f" stroke-width="0.35"/>
<circle cx="128.30" cy="305.36" r="1.60" fill="#ff5f0f" stroke="#ff5f0f" stroke-width="0.35"/>
<circle cx="134.68" cy="299.46" r="1.60" fill="#ff5f0f" stroke="#ff5f0f" stroke-width="0.35"/>
<circle cx="141.05" cy="292.15" r="1.60" fill="#ff5f0f" stroke="#ff5f0f" stroke-width="0.35"/>
<circle cx="147.43" cy="284.21" r="1.60" fill="#ff5f0f" stroke="#ff5f0f" stroke-width="0.35"/>
<circle cx="153.80" cy="275.88" r="1.60" fill="#ff5f0f" stroke="#ff5f0f" stroke-width="0.35"/>
<circle cx="160.18" cy="267.55" r="1.60" fill="#ff5f0f" stroke="#ff5f0f" stroke-width="0.35"/>
<circle cx="166.55" cy="259.22" r="1.60" fill="#ff5f0f" stroke="#ff5f0f" stroke-width="0.35"/>
<path clip-path="url(#cE)" d="M51.80 317.70 L58.17 317.70 L64.55 317.70 L70.92 317.70 L77.30 317.70 L83.67 317.70 L90.05 317.70 L96.42 317.70 L102.80 317.70 L109.17 317.70 L115.55 317.70 L121.92 317.70 L128.30 317.70 L134.68 317.70 L141.05 317.70 L147.43 317.70 L153.80 317.70 L160.18 317.70 L166.55 317.70 L172.93 317.70 L179.30 317.70" fill="none" stroke="#777" stroke-width="1.2" stroke-linejoin="round"/>
<rect x="49.80" y="315.70" width="4.00" height="4.00" fill="#808080" stroke="#808080" stroke-width="0.35"/>
<rect x="56.17" y="315.70" width="4.00" height="4.00" fill="#808080" stroke="#808080" stroke-width="0.35"/>
<rect x="62.55" y="315.70" width="4.00" height="4.00" fill="#808080" stroke="#808080" stroke-width="0.35"/>
<rect x="68.92" y="315.70" width="4.00" height="4.00" fill="#808080" stroke="#808080" stroke-width="0.35"/>
<rect x="75.30" y="315.70" width="4.00" height="4.00" fill="#808080" stroke="#808080" stroke-width="0.35"/>
<rect x="81.67" y="315.70" width="4.00" height="4.00" fill="#808080" stroke="#808080" stroke-width="0.35"/>
<rect x="88.05" y="315.70" width="4.00" height="4.00" fill="#808080" stroke="#808080" stroke-width="0.35"/>
<rect x="94.42" y="315.70" width="4.00" height="4.00" fill="#808080" stroke="#808080" stroke-width="0.35"/>
<rect x="100.80" y="315.70" width="4.00" height="4.00" fill="#808080" stroke="#808080" stroke-width="0.35"/>
<rect x="107.17" y="315.70" width="4.00" height="4.00" fill="#808080" stroke="#808080" stroke-width="0.35"/>
<rect x="113.55" y="315.70" width="4.00" height="4.00" fill="#808080" stroke="#808080" stroke-width="0.35"/>
<rect x="119.92" y="315.70" width="4.00" height="4.00" fill="#808080" stroke="#808080" stroke-width="0.35"/>
<rect x="126.30" y="315.70" width="4.00" height="4.00" fill="#808080" stroke="#808080" stroke-width="0.35"/>
<rect x="132.68" y="315.70" width="4.00" height="4.00" fill="#808080" stroke="#808080" stroke-width="0.35"/>
<rect x="139.05" y="315.70" width="4.00" height="4.00" fill="#808080" stroke="#808080" stroke-width="0.35"/>
<rect x="145.43" y="315.70" width="4.00" height="4.00" fill="#808080" stroke="#808080" stroke-width="0.35"/>
<rect x="151.80" y="315.70" width="4.00" height="4.00" fill="#808080" stroke="#808080" stroke-width="0.35"/>
<rect x="158.18" y="315.70" width="4.00" height="4.00" fill="#808080" stroke="#808080" stroke-width="0.35"/>
<rect x="164.55" y="315.70" width="4.00" height="4.00" fill="#808080" stroke="#808080" stroke-width="0.35"/>
<rect x="170.93" y="315.70" width="4.00" height="4.00" fill="#808080" stroke="#808080" stroke-width="0.35"/>
<rect x="177.30" y="315.70" width="4.00" height="4.00" fill="#808080" stroke="#808080" stroke-width="0.35"/>
<path clip-path="url(#cE)" d="M51.80 317.36 L58.17 317.36 L64.55 317.36 L70.92 317.36 L77.30 317.36 L83.67 317.36 L90.05 317.36 L96.42 317.36 L102.80 317.36 L109.17 317.36 L115.55 317.36 L121.92 317.36 L128.30 317.36 L134.68 317.36 L141.05 317.36 L147.43 317.36 L153.80 317.36 L160.18 317.36 L166.55 317.36 L172.93 317.36 L179.30 317.36" fill="none" stroke="#777" stroke-width="1.2" stroke-linejoin="round"/>
<path d="M51.80 314.94L54.11 319.12L49.49 319.12Z" fill="#808080" stroke="#808080" stroke-width="0.35"/>
<path d="M58.17 314.94L60.48 319.12L55.86 319.12Z" fill="#808080" stroke="#808080" stroke-width="0.35"/>
<path d="M64.55 314.94L66.86 319.12L62.24 319.12Z" fill="#808080" stroke="#808080" stroke-width="0.35"/>
<path d="M70.92 314.94L73.23 319.12L68.61 319.12Z" fill="#808080" stroke="#808080" stroke-width="0.35"/>
<path d="M77.30 314.94L79.61 319.12L74.99 319.12Z" fill="#808080" stroke="#808080" stroke-width="0.35"/>
<path d="M83.67 314.94L85.98 319.12L81.36 319.12Z" fill="#808080" stroke="#808080" stroke-width="0.35"/>
<path d="M90.05 314.94L92.36 319.12L87.74 319.12Z" fill="#808080" stroke="#808080" stroke-width="0.35"/>
<path d="M96.42 314.94L98.73 319.12L94.11 319.12Z" fill="#808080" stroke="#808080" stroke-width="0.35"/>
<path d="M102.80 314.94L105.11 319.12L100.49 319.12Z" fill="#808080" stroke="#808080" stroke-width="0.35"/>
<path d="M109.17 314.94L111.48 319.12L106.86 319.12Z" fill="#808080" stroke="#808080" stroke-width="0.35"/>
<path d="M115.55 314.94L117.86 319.12L113.24 319.12Z" fill="#808080" stroke="#808080" stroke-width="0.35"/>
<path d="M121.92 314.94L124.23 319.12L119.61 319.12Z" fill="#808080" stroke="#808080" stroke-width="0.35"/>
<path d="M128.30 314.94L130.61 319.12L125.99 319.12Z" fill="#808080" stroke="#808080" stroke-width="0.35"/>
<path d="M134.68 314.94L136.99 319.12L132.37 319.12Z" fill="#808080" stroke="#808080" stroke-width="0.35"/>
<path d="M141.05 314.94L143.36 319.12L138.74 319.12Z" fill="#808080" stroke="#808080" stroke-width="0.35"/>
<path d="M147.43 314.94L149.74 319.12L145.12 319.12Z" fill="#808080" stroke="#808080" stroke-width="0.35"/>
<path d="M153.80 314.94L156.11 319.12L151.49 319.12Z" fill="#808080" stroke="#808080" stroke-width="0.35"/>
<path d="M160.18 314.94L162.49 319.12L157.87 319.12Z" fill="#808080" stroke="#808080" stroke-width="0.35"/>
<path d="M166.55 314.94L168.86 319.12L164.24 319.12Z" fill="#808080" stroke="#808080" stroke-width="0.35"/>
<path d="M172.93 314.94L175.24 319.12L170.62 319.12Z" fill="#808080" stroke="#808080" stroke-width="0.35"/>
<path d="M179.30 314.94L181.61 319.12L176.99 319.12Z" fill="#808080" stroke="#808080" stroke-width="0.35"/>
<path clip-path="url(#cE)" d="M51.80 318.21 L58.17 318.21 L64.55 318.21 L70.92 318.21 L77.30 318.21 L83.67 318.21 L90.05 318.21 L96.42 318.21 L102.80 318.21 L109.17 318.21 L115.55 318.21 L121.92 318.21 L128.30 318.21 L134.68 318.21 L141.05 318.21 L147.43 318.21 L153.80 318.21 L160.18 318.21 L166.55 318.21 L172.93 318.21 L179.30 318.21" fill="none" stroke="#777" stroke-width="1.2" stroke-linejoin="round"/>
<path d="M51.80 320.63L54.11 316.45L49.49 316.45Z" fill="#808080" stroke="#808080" stroke-width="0.35"/>
<path d="M58.17 320.63L60.48 316.45L55.86 316.45Z" fill="#808080" stroke="#808080" stroke-width="0.35"/>
<path d="M64.55 320.63L66.86 316.45L62.24 316.45Z" fill="#808080" stroke="#808080" stroke-width="0.35"/>
<path d="M70.92 320.63L73.23 316.45L68.61 316.45Z" fill="#808080" stroke="#808080" stroke-width="0.35"/>
<path d="M77.30 320.63L79.61 316.45L74.99 316.45Z" fill="#808080" stroke="#808080" stroke-width="0.35"/>
<path d="M83.67 320.63L85.98 316.45L81.36 316.45Z" fill="#808080" stroke="#808080" stroke-width="0.35"/>
<path d="M90.05 320.63L92.36 316.45L87.74 316.45Z" fill="#808080" stroke="#808080" stroke-width="0.35"/>
<path d="M96.42 320.63L98.73 316.45L94.11 316.45Z" fill="#808080" stroke="#808080" stroke-width="0.35"/>
<path d="M102.80 320.63L105.11 316.45L100.49 316.45Z" fill="#808080" stroke="#808080" stroke-width="0.35"/>
<path d="M109.17 320.63L111.48 316.45L106.86 316.45Z" fill="#808080" stroke="#808080" stroke-width="0.35"/>
<path d="M115.55 320.63L117.86 316.45L113.24 316.45Z" fill="#808080" stroke="#808080" stroke-width="0.35"/>
<path d="M121.92 320.63L124.23 316.45L119.61 316.45Z" fill="#808080" stroke="#808080" stroke-width="0.35"/>
<path d="M128.30 320.63L130.61 316.45L125.99 316.45Z" fill="#808080" stroke="#808080" stroke-width="0.35"/>
<path d="M134.68 320.63L136.99 316.45L132.37 316.45Z" fill="#808080" stroke="#808080" stroke-width="0.35"/>
<path d="M141.05 320.63L143.36 316.45L138.74 316.45Z" fill="#808080" stroke="#808080" stroke-width="0.35"/>
<path d="M147.43 320.63L149.74 316.45L145.12 316.45Z" fill="#808080" stroke="#808080" stroke-width="0.35"/>
<path d="M153.80 320.63L156.11 316.45L151.49 316.45Z" fill="#808080" stroke="#808080" stroke-width="0.35"/>
<path d="M160.18 320.63L162.49 316.45L157.87 316.45Z" fill="#808080" stroke="#808080" stroke-width="0.35"/>
<path d="M166.55 320.63L168.86 316.45L164.24 316.45Z" fill="#808080" stroke="#808080" stroke-width="0.35"/>
<path d="M172.93 320.63L175.24 316.45L170.62 316.45Z" fill="#808080" stroke="#808080" stroke-width="0.35"/>
<path d="M179.30 320.63L181.61 316.45L176.99 316.45Z" fill="#808080" stroke="#808080" stroke-width="0.35"/>
<line x1="51.80" y1="250.90" x2="51.80" y2="336.90" stroke="#7a7a7a" stroke-width="2.2"/>
<line x1="51.30" y1="336.40" x2="179.80" y2="336.40" stroke="#2a2a2a" stroke-width="1.2"/>
<line x1="49.20" y1="336.40" x2="51.80" y2="336.40" stroke="#141414" stroke-width="1"/>
<text transform="translate(48.90 339.20) scale(0.95 1)" text-anchor="end" class="tk">0</text>
<line x1="49.20" y1="319.40" x2="51.80" y2="319.40" stroke="#141414" stroke-width="1"/>
<text transform="translate(48.90 322.20) scale(0.95 1)" text-anchor="end" class="tk">1,000</text>
<line x1="49.20" y1="302.40" x2="51.80" y2="302.40" stroke="#141414" stroke-width="1"/>
<text transform="translate(48.90 305.20) scale(0.95 1)" text-anchor="end" class="tk">2,000</text>
<line x1="49.20" y1="285.40" x2="51.80" y2="285.40" stroke="#141414" stroke-width="1"/>
<text transform="translate(48.90 288.20) scale(0.95 1)" text-anchor="end" class="tk">3,000</text>
<line x1="49.20" y1="268.40" x2="51.80" y2="268.40" stroke="#141414" stroke-width="1"/>
<text transform="translate(48.90 271.20) scale(0.95 1)" text-anchor="end" class="tk">4,000</text>
<line x1="49.20" y1="251.40" x2="51.80" y2="251.40" stroke="#141414" stroke-width="1"/>
<text transform="translate(48.90 254.20) scale(0.95 1)" text-anchor="end" class="tk">5,000</text>
<line x1="51.80" y1="336.40" x2="51.80" y2="339.00" stroke="#141414" stroke-width="1"/>
<text transform="translate(51.80 345.15) scale(0.95 1)" text-anchor="middle" class="tk">0</text>
<line x1="83.67" y1="336.40" x2="83.67" y2="339.00" stroke="#141414" stroke-width="1"/>
<text transform="translate(83.67 345.15) scale(0.95 1)" text-anchor="middle" class="tk">5</text>
<line x1="115.55" y1="336.40" x2="115.55" y2="339.00" stroke="#141414" stroke-width="1"/>
<text transform="translate(115.55 345.15) scale(0.95 1)" text-anchor="middle" class="tk">10</text>
<line x1="147.43" y1="336.40" x2="147.43" y2="339.00" stroke="#141414" stroke-width="1"/>
<text transform="translate(147.43 345.15) scale(0.95 1)" text-anchor="middle" class="tk">15</text>
<line x1="179.30" y1="336.40" x2="179.30" y2="339.00" stroke="#141414" stroke-width="1"/>
<text transform="translate(179.30 345.15) scale(0.95 1)" text-anchor="middle" class="tk">20</text>
<text transform="translate(116.10 354.30) scale(0.925 1)" text-anchor="middle" class="ttl">Time(min)</text>
<text transform="translate(29.30 293.55) rotate(-90) scale(0.925 1)" text-anchor="middle" class="ttl">Fluorescence unit(mV)</text>
<text transform="translate(5.30 250.60)" class="let">E</text>
<line x1="187.00" y1="243.30" x2="196.40" y2="243.30" stroke="#111111" stroke-width="1"/>
<rect x="190.05" y="241.65" width="3.30" height="3.30" fill="#111111" stroke="#111111" stroke-width="0.35"/>
<text transform="translate(201.70 246.30)" class="lg">Negative control</text>
<line x1="187.00" y1="253.75" x2="196.40" y2="253.75" stroke="#808080" stroke-width="1"/>
<rect x="190.05" y="252.10" width="3.30" height="3.30" fill="#808080" stroke="#808080" stroke-width="0.35"/>
<text transform="translate(201.70 256.85)" class="lg it">Schistosoma japonicum</text>
<line x1="187.00" y1="264.20" x2="196.40" y2="264.20" stroke="#808080" stroke-width="1"/>
<path d="M191.70 262.38L193.43 265.52L189.97 265.52Z" fill="#808080" stroke="#808080" stroke-width="0.35"/>
<text transform="translate(201.70 267.40)" class="lg it">Clonorchis sinensis</text>
<line x1="187.00" y1="274.65" x2="196.40" y2="274.65" stroke="#808080" stroke-width="1"/>
<path d="M191.70 272.67L193.19 274.65L191.70 276.63L190.21 274.65Z" fill="#808080" stroke="#808080" stroke-width="0.35"/>
<text transform="translate(201.70 277.95)" class="lg it">Ascaris lumbricoides</text>
<line x1="187.00" y1="285.10" x2="196.40" y2="285.10" stroke="#808080" stroke-width="1"/>
<circle cx="191.70" cy="285.10" r="1.65" fill="none" stroke="#808080" stroke-width="1.0"/>
<text transform="translate(201.70 288.50)" class="lg it">Strongyloides stercoralis</text>
<line x1="187.00" y1="295.55" x2="196.40" y2="295.55" stroke="#ff5f0f" stroke-width="1"/>
<circle cx="191.70" cy="295.55" r="1.65" fill="#ff5f0f" stroke="#ff5f0f" stroke-width="0.35"/>
<text transform="translate(201.70 299.05)" class="lg it">Ancylostoma duodenale</text>
<line x1="187.00" y1="306.00" x2="196.40" y2="306.00" stroke="#808080" stroke-width="1"/>
<path d="M191.70 304.19L193.43 307.32L189.97 307.32Z" fill="none" stroke="#808080" stroke-width="1.0"/>
<text transform="translate(201.70 309.60)" class="lg it">Necator americanus</text>
<line x1="187.00" y1="316.45" x2="196.40" y2="316.45" stroke="#808080" stroke-width="1"/>
<path d="M191.70 314.63L193.43 317.77L189.97 317.77Z" fill="none" stroke="#808080" stroke-width="1.0"/>
<text transform="translate(201.70 320.15)" class="lg it">Cryptosporidium</text>
<line x1="187.00" y1="326.90" x2="196.40" y2="326.90" stroke="#808080" stroke-width="1"/>
<path d="M191.70 328.71L193.43 325.58L189.97 325.58Z" fill="none" stroke="#808080" stroke-width="1.0"/>
<text transform="translate(201.70 330.70)" class="lg it">Giardia lamblia</text>
<clipPath id="cF"><rect x="323.1" y="252.9" width="141.5" height="88.99999999999997"/></clipPath>
<path clip-path="url(#cF)" d="M329.10 330.88 L335.48 330.88 L341.85 330.88 L348.23 330.88 L354.60 330.88 L360.98 330.88 L367.35 330.88 L373.73 330.88 L380.10 330.88 L386.48 330.88 L392.85 330.88 L399.23 330.88 L405.60 330.88 L411.98 330.88 L418.35 330.88 L424.73 330.88 L431.10 330.88 L437.48 330.88 L443.85 330.88 L450.23 330.88 L456.60 330.88" fill="none" stroke="#555" stroke-width="1.2" stroke-linejoin="round"/>
<path clip-path="url(#cF)" d="M329.10 330.88 L335.48 330.88 L341.85 330.88 L348.23 330.88 L354.60 296.56 L360.98 270.83 L367.35 253.69" fill="none" stroke="#17a5e3" stroke-width="1.2" stroke-linejoin="round"/>
<circle cx="329.10" cy="330.88" r="1.75" fill="#17a5e3" stroke="#17a5e3" stroke-width="0.35"/>
<circle cx="335.48" cy="330.88" r="1.75" fill="#17a5e3" stroke="#17a5e3" stroke-width="0.35"/>
<circle cx="341.85" cy="330.88" r="1.75" fill="#17a5e3" stroke="#17a5e3" stroke-width="0.35"/>
<circle cx="348.23" cy="330.88" r="1.75" fill="#17a5e3" stroke="#17a5e3" stroke-width="0.35"/>
<circle cx="354.60" cy="296.56" r="1.75" fill="#17a5e3" stroke="#17a5e3" stroke-width="0.35"/>
<circle cx="360.98" cy="270.83" r="1.75" fill="#17a5e3" stroke="#17a5e3" stroke-width="0.35"/>
<circle cx="367.35" cy="253.69" r="1.75" fill="#17a5e3" stroke="#17a5e3" stroke-width="0.35"/>
<path clip-path="url(#cF)" d="M329.10 330.88 L335.48 330.88 L341.85 330.88 L348.23 330.88 L354.60 330.88 L360.98 330.88 L367.35 330.88 L373.73 330.88 L380.10 330.88 L386.48 330.88 L392.85 330.88 L399.23 330.88 L405.60 330.88 L411.98 330.88 L418.35 330.88 L424.73 330.88 L431.10 330.88 L437.48 330.88 L443.85 330.88 L450.23 330.88 L456.60 330.88" fill="none" stroke="#777" stroke-width="1.2" stroke-linejoin="round"/>
<rect x="327.25" y="329.03" width="3.70" height="3.70" fill="#808080" stroke="#808080" stroke-width="0.35"/>
<rect x="333.62" y="329.03" width="3.70" height="3.70" fill="#808080" stroke="#808080" stroke-width="0.35"/>
<rect x="340.00" y="329.03" width="3.70" height="3.70" fill="#808080" stroke="#808080" stroke-width="0.35"/>
<rect x="346.38" y="329.03" width="3.70" height="3.70" fill="#808080" stroke="#808080" stroke-width="0.35"/>
<rect x="352.75" y="329.03" width="3.70" height="3.70" fill="#808080" stroke="#808080" stroke-width="0.35"/>
<rect x="359.12" y="329.03" width="3.70" height="3.70" fill="#808080" stroke="#808080" stroke-width="0.35"/>
<rect x="365.50" y="329.03" width="3.70" height="3.70" fill="#808080" stroke="#808080" stroke-width="0.35"/>
<rect x="371.88" y="329.03" width="3.70" height="3.70" fill="#808080" stroke="#808080" stroke-width="0.35"/>
<rect x="378.25" y="329.03" width="3.70" height="3.70" fill="#808080" stroke="#808080" stroke-width="0.35"/>
<rect x="384.62" y="329.03" width="3.70" height="3.70" fill="#808080" stroke="#808080" stroke-width="0.35"/>
<rect x="391.00" y="329.03" width="3.70" height="3.70" fill="#808080" stroke="#808080" stroke-width="0.35"/>
<rect x="397.38" y="329.03" width="3.70" height="3.70" fill="#808080" stroke="#808080" stroke-width="0.35"/>
<rect x="403.75" y="329.03" width="3.70" height="3.70" fill="#808080" stroke="#808080" stroke-width="0.35"/>
<rect x="410.12" y="329.03" width="3.70" height="3.70" fill="#808080" stroke="#808080" stroke-width="0.35"/>
<rect x="416.50" y="329.03" width="3.70" height="3.70" fill="#808080" stroke="#808080" stroke-width="0.35"/>
<rect x="422.88" y="329.03" width="3.70" height="3.70" fill="#808080" stroke="#808080" stroke-width="0.35"/>
<rect x="429.25" y="329.03" width="3.70" height="3.70" fill="#808080" stroke="#808080" stroke-width="0.35"/>
<rect x="435.62" y="329.03" width="3.70" height="3.70" fill="#808080" stroke="#808080" stroke-width="0.35"/>
<rect x="442.00" y="329.03" width="3.70" height="3.70" fill="#808080" stroke="#808080" stroke-width="0.35"/>
<rect x="448.38" y="329.03" width="3.70" height="3.70" fill="#808080" stroke="#808080" stroke-width="0.35"/>
<rect x="454.75" y="329.03" width="3.70" height="3.70" fill="#808080" stroke="#808080" stroke-width="0.35"/>
<path clip-path="url(#cF)" d="M329.10 330.88 L335.48 330.88 L341.85 330.88 L348.23 330.88 L354.60 330.88 L360.98 330.88 L367.35 330.88 L373.73 330.88 L380.10 330.88 L386.48 330.88 L392.85 330.88 L399.23 330.88 L405.60 330.88 L411.98 330.88 L418.35 330.88 L424.73 330.88 L431.10 330.88 L437.48 330.88 L443.85 330.88 L450.23 330.88 L456.60 330.88" fill="none" stroke="#777" stroke-width="1.2" stroke-linejoin="round"/>
<circle cx="329.10" cy="330.88" r="1.60" fill="#808080" stroke="#808080" stroke-width="0.35"/>
<circle cx="335.48" cy="330.88" r="1.60" fill="#808080" stroke="#808080" stroke-width="0.35"/>
<circle cx="341.85" cy="330.88" r="1.60" fill="#808080" stroke="#808080" stroke-width="0.35"/>
<circle cx="348.23" cy="330.88" r="1.60" fill="#808080" stroke="#808080" stroke-width="0.35"/>
<circle cx="354.60" cy="330.88" r="1.60" fill="#808080" stroke="#808080" stroke-width="0.35"/>
<circle cx="360.98" cy="330.88" r="1.60" fill="#808080" stroke="#808080" stroke-width="0.35"/>
<circle cx="367.35" cy="330.88" r="1.60" fill="#808080" stroke="#808080" stroke-width="0.35"/>
<circle cx="373.73" cy="330.88" r="1.60" fill="#808080" stroke="#808080" stroke-width="0.35"/>
<circle cx="380.10" cy="330.88" r="1.60" fill="#808080" stroke="#808080" stroke-width="0.35"/>
<circle cx="386.48" cy="330.88" r="1.60" fill="#808080" stroke="#808080" stroke-width="0.35"/>
<circle cx="392.85" cy="330.88" r="1.60" fill="#808080" stroke="#808080" stroke-width="0.35"/>
<circle cx="399.23" cy="330.88" r="1.60" fill="#808080" stroke="#808080" stroke-width="0.35"/>
<circle cx="405.60" cy="330.88" r="1.60" fill="#808080" stroke="#808080" stroke-width="0.35"/>
<circle cx="411.98" cy="330.88" r="1.60" fill="#808080" stroke="#808080" stroke-width="0.35"/>
<circle cx="418.35" cy="330.88" r="1.60" fill="#808080" stroke="#808080" stroke-width="0.35"/>
<circle cx="424.73" cy="330.88" r="1.60" fill="#808080" stroke="#808080" stroke-width="0.35"/>
<circle cx="431.10" cy="330.88" r="1.60" fill="#808080" stroke="#808080" stroke-width="0.35"/>
<circle cx="437.48" cy="330.88" r="1.60" fill="#808080" stroke="#808080" stroke-width="0.35"/>
<circle cx="443.85" cy="330.88" r="1.60" fill="#808080" stroke="#808080" stroke-width="0.35"/>
<circle cx="450.23" cy="330.88" r="1.60" fill="#808080" stroke="#808080" stroke-width="0.35"/>
<circle cx="456.60" cy="330.88" r="1.60" fill="#808080" stroke="#808080" stroke-width="0.35"/>
<line x1="329.10" y1="251.30" x2="329.10" y2="336.90" stroke="#7a7a7a" stroke-width="2.2"/>
<line x1="328.60" y1="336.40" x2="457.10" y2="336.40" stroke="#2a2a2a" stroke-width="1.2"/>
<line x1="326.50" y1="336.40" x2="329.10" y2="336.40" stroke="#141414" stroke-width="1"/>
<text transform="translate(326.20 339.20) scale(0.95 1)" text-anchor="end" class="tk">0</text>
<line x1="326.50" y1="315.65" x2="329.10" y2="315.65" stroke="#141414" stroke-width="1"/>
<text transform="translate(326.20 318.45) scale(0.95 1)" text-anchor="end" class="tk">5,000</text>
<line x1="326.50" y1="294.90" x2="329.10" y2="294.90" stroke="#141414" stroke-width="1"/>
<text transform="translate(326.20 297.70) scale(0.95 1)" text-anchor="end" class="tk">10,000</text>
<line x1="326.50" y1="274.15" x2="329.10" y2="274.15" stroke="#141414" stroke-width="1"/>
<text transform="translate(326.20 276.95) scale(0.95 1)" text-anchor="end" class="tk">15,000</text>
<line x1="326.50" y1="253.40" x2="329.10" y2="253.40" stroke="#141414" stroke-width="1"/>
<text transform="translate(326.20 256.20) scale(0.95 1)" text-anchor="end" class="tk">20,000</text>
<line x1="329.10" y1="336.40" x2="329.10" y2="339.00" stroke="#141414" stroke-width="1"/>
<text transform="translate(329.10 345.15) scale(0.95 1)" text-anchor="middle" class="tk">0</text>
<line x1="360.98" y1="336.40" x2="360.98" y2="339.00" stroke="#141414" stroke-width="1"/>
<text transform="translate(360.98 345.15) scale(0.95 1)" text-anchor="middle" class="tk">5</text>
<line x1="392.85" y1="336.40" x2="392.85" y2="339.00" stroke="#141414" stroke-width="1"/>
<text transform="translate(392.85 345.15) scale(0.95 1)" text-anchor="middle" class="tk">10</text>
<line x1="424.73" y1="336.40" x2="424.73" y2="339.00" stroke="#141414" stroke-width="1"/>
<text transform="translate(424.73 345.15) scale(0.95 1)" text-anchor="middle" class="tk">15</text>
<line x1="456.60" y1="336.40" x2="456.60" y2="339.00" stroke="#141414" stroke-width="1"/>
<text transform="translate(456.60 345.15) scale(0.95 1)" text-anchor="middle" class="tk">20</text>
<text transform="translate(393.15 354.30) scale(0.925 1)" text-anchor="middle" class="ttl">Time(min)</text>
<text transform="translate(303.10 293.55) rotate(-90) scale(0.925 1)" text-anchor="middle" class="ttl">Fluorescence unit(mV)</text>
<text transform="translate(276.70 251.10)" class="let">F</text>
<line x1="457.00" y1="244.60" x2="466.00" y2="244.60" stroke="#111111" stroke-width="1"/>
<rect x="459.85" y="242.95" width="3.30" height="3.30" fill="#111111" stroke="#111111" stroke-width="0.35"/>
<text transform="translate(471.30 247.60)" class="lg">Negative control</text>
<line x1="457.00" y1="254.55" x2="466.00" y2="254.55" stroke="#808080" stroke-width="1"/>
<circle cx="461.50" cy="254.55" r="1.65" fill="#808080" stroke="#808080" stroke-width="0.35"/>
<text transform="translate(471.30 257.65)" class="lg it">Schistosoma japonicum</text>
<line x1="457.00" y1="264.50" x2="466.00" y2="264.50" stroke="#808080" stroke-width="1"/>
<path d="M461.50 262.69L463.23 265.82L459.77 265.82Z" fill="#808080" stroke="#808080" stroke-width="0.35"/>
<text transform="translate(471.30 267.70)" class="lg it">Clonorchis sinensis</text>
<line x1="457.00" y1="274.45" x2="466.00" y2="274.45" stroke="#808080" stroke-width="1"/>
<path d="M461.50 276.26L463.23 273.13L459.77 273.13Z" fill="#808080" stroke="#808080" stroke-width="0.35"/>
<text transform="translate(471.30 277.75)" class="lg it">Ascaris lumbricoides</text>
<line x1="457.00" y1="284.40" x2="466.00" y2="284.40" stroke="#808080" stroke-width="1"/>
<path d="M461.50 282.42L462.99 284.40L461.50 286.38L460.01 284.40Z" fill="#808080" stroke="#808080" stroke-width="0.35"/>
<text transform="translate(471.30 287.80)" class="lg it">Strongyloides stercoralis</text>
<line x1="457.00" y1="294.35" x2="466.00" y2="294.35" stroke="#17a5e3" stroke-width="1"/>
<circle cx="461.50" cy="294.35" r="1.65" fill="#17a5e3" stroke="#17a5e3" stroke-width="0.35"/>
<text transform="translate(471.30 297.85)" class="lg it">Necator americanus</text>
<line x1="457.00" y1="304.30" x2="466.00" y2="304.30" stroke="#808080" stroke-width="1"/>
<circle cx="461.50" cy="304.30" r="1.65" fill="none" stroke="#808080" stroke-width="1.0"/>
<text transform="translate(471.30 307.90)" class="lg it">Ancylostoma duodenale</text>
<line x1="457.00" y1="314.25" x2="466.00" y2="314.25" stroke="#808080" stroke-width="1"/>
<path d="M461.50 312.44L463.23 315.57L459.77 315.57Z" fill="none" stroke="#808080" stroke-width="1.0"/>
<text transform="translate(471.30 317.95)" class="lg it">Giardia lamblia</text>
<line x1="457.00" y1="324.20" x2="466.00" y2="324.20" stroke="#808080" stroke-width="1"/>
<path d="M461.50 326.01L463.23 322.88L459.77 322.88Z" fill="none" stroke="#808080" stroke-width="1.0"/>
<text transform="translate(471.30 328.00)" class="lg it">Cryptosporidium</text>
</svg>
</body></html>
